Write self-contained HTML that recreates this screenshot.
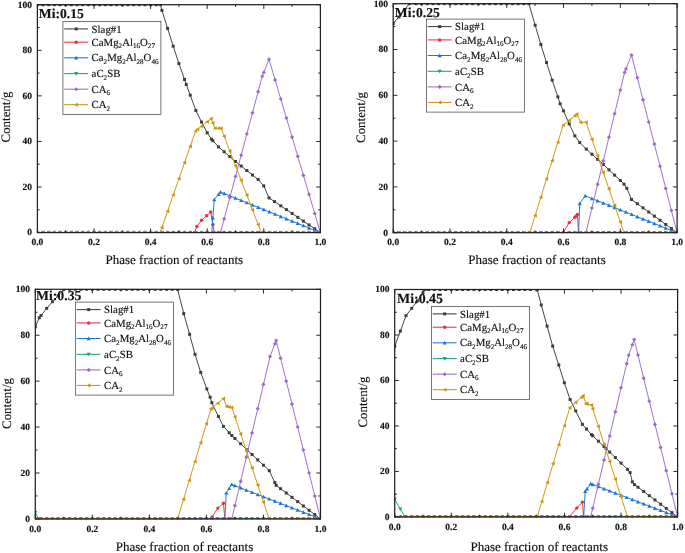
<!DOCTYPE html>
<html><head><meta charset="utf-8"><title>Phase fraction charts</title>
<style>
html,body{margin:0;padding:0;background:#fff;}
body{width:685px;height:553px;overflow:hidden;}
svg{display:block;filter:blur(0.4px);}
text{stroke:#111;stroke-width:0.15px;}
</style></head>
<body>
<svg width="685" height="553" viewBox="0 0 685 553" text-rendering="geometricPrecision">
<rect width="685" height="553" fill="#fff"/>
<clipPath id="c1"><rect x="37.10" y="4.30" width="283.60" height="228.70"/></clipPath>
<g clip-path="url(#c1)">
<path d="M37.40 4.70 L43.06 4.70 L48.72 4.70 L54.38 4.70 L60.04 4.70 L65.70 4.70 L71.36 4.70 L77.02 4.70 L82.68 4.70 L88.34 4.70 L94.00 4.70 L99.66 4.70 L105.32 4.70 L110.98 4.70 L116.64 4.70 L122.30 4.70 L127.96 4.70 L133.62 4.70 L139.28 4.70 L144.94 4.70 L150.60 4.70 L156.26 4.70 L160.50 4.70 L161.92 10.40 L167.58 28.40 L173.24 46.18 L178.90 63.50 L184.56 79.45 L186.26 84.47 L190.22 95.18 L195.88 110.45 L201.54 122.07 L207.20 132.78 L211.44 139.16 L212.86 140.71 L218.52 146.91 L224.18 151.77 L229.84 156.63 L235.50 161.50 L241.16 166.00 L246.82 170.50 L252.48 175.00 L258.14 179.50 L263.80 185.88 L269.04 197.96 L274.55 201.61 L280.78 205.81 L286.44 209.64 L292.10 213.47 L297.76 217.29 L303.42 221.12 L309.08 224.95 L314.74 228.77 L320.40 232.60" fill="none" stroke="#3c3c3c" stroke-width="0.95" stroke-linejoin="round"/>
<rect x="35.91" y="3.21" width="2.97" height="2.97" fill="#3c3c3c"/><rect x="41.58" y="3.21" width="2.97" height="2.97" fill="#3c3c3c"/><rect x="47.23" y="3.21" width="2.97" height="2.97" fill="#3c3c3c"/><rect x="52.89" y="3.21" width="2.97" height="2.97" fill="#3c3c3c"/><rect x="58.55" y="3.21" width="2.97" height="2.97" fill="#3c3c3c"/><rect x="64.22" y="3.21" width="2.97" height="2.97" fill="#3c3c3c"/><rect x="69.88" y="3.21" width="2.97" height="2.97" fill="#3c3c3c"/><rect x="75.54" y="3.21" width="2.97" height="2.97" fill="#3c3c3c"/><rect x="81.20" y="3.21" width="2.97" height="2.97" fill="#3c3c3c"/><rect x="86.86" y="3.21" width="2.97" height="2.97" fill="#3c3c3c"/><rect x="92.52" y="3.21" width="2.97" height="2.97" fill="#3c3c3c"/><rect x="98.17" y="3.21" width="2.97" height="2.97" fill="#3c3c3c"/><rect x="103.83" y="3.21" width="2.97" height="2.97" fill="#3c3c3c"/><rect x="109.49" y="3.21" width="2.97" height="2.97" fill="#3c3c3c"/><rect x="115.16" y="3.21" width="2.97" height="2.97" fill="#3c3c3c"/><rect x="120.81" y="3.21" width="2.97" height="2.97" fill="#3c3c3c"/><rect x="126.48" y="3.21" width="2.97" height="2.97" fill="#3c3c3c"/><rect x="132.13" y="3.21" width="2.97" height="2.97" fill="#3c3c3c"/><rect x="137.79" y="3.21" width="2.97" height="2.97" fill="#3c3c3c"/><rect x="143.45" y="3.21" width="2.97" height="2.97" fill="#3c3c3c"/><rect x="149.11" y="3.21" width="2.97" height="2.97" fill="#3c3c3c"/><rect x="154.77" y="3.21" width="2.97" height="2.97" fill="#3c3c3c"/><rect x="159.02" y="3.21" width="2.97" height="2.97" fill="#3c3c3c"/><rect x="160.43" y="8.91" width="2.97" height="2.97" fill="#3c3c3c"/><rect x="166.09" y="26.92" width="2.97" height="2.97" fill="#3c3c3c"/><rect x="171.75" y="44.69" width="2.97" height="2.97" fill="#3c3c3c"/><rect x="177.41" y="62.01" width="2.97" height="2.97" fill="#3c3c3c"/><rect x="183.07" y="77.97" width="2.97" height="2.97" fill="#3c3c3c"/><rect x="184.77" y="82.98" width="2.97" height="2.97" fill="#3c3c3c"/><rect x="188.74" y="93.69" width="2.97" height="2.97" fill="#3c3c3c"/><rect x="194.40" y="108.96" width="2.97" height="2.97" fill="#3c3c3c"/><rect x="200.05" y="120.58" width="2.97" height="2.97" fill="#3c3c3c"/><rect x="205.71" y="131.29" width="2.97" height="2.97" fill="#3c3c3c"/><rect x="209.96" y="137.68" width="2.97" height="2.97" fill="#3c3c3c"/><rect x="211.38" y="139.23" width="2.97" height="2.97" fill="#3c3c3c"/><rect x="217.03" y="145.42" width="2.97" height="2.97" fill="#3c3c3c"/><rect x="222.69" y="150.29" width="2.97" height="2.97" fill="#3c3c3c"/><rect x="228.36" y="155.15" width="2.97" height="2.97" fill="#3c3c3c"/><rect x="234.01" y="160.01" width="2.97" height="2.97" fill="#3c3c3c"/><rect x="239.67" y="164.51" width="2.97" height="2.97" fill="#3c3c3c"/><rect x="245.33" y="169.01" width="2.97" height="2.97" fill="#3c3c3c"/><rect x="251.00" y="173.51" width="2.97" height="2.97" fill="#3c3c3c"/><rect x="256.65" y="178.01" width="2.97" height="2.97" fill="#3c3c3c"/><rect x="262.31" y="184.40" width="2.97" height="2.97" fill="#3c3c3c"/><rect x="267.55" y="196.47" width="2.97" height="2.97" fill="#3c3c3c"/><rect x="273.07" y="200.12" width="2.97" height="2.97" fill="#3c3c3c"/><rect x="279.29" y="204.33" width="2.97" height="2.97" fill="#3c3c3c"/><rect x="284.95" y="208.16" width="2.97" height="2.97" fill="#3c3c3c"/><rect x="290.62" y="211.98" width="2.97" height="2.97" fill="#3c3c3c"/><rect x="296.27" y="215.81" width="2.97" height="2.97" fill="#3c3c3c"/><rect x="301.93" y="219.64" width="2.97" height="2.97" fill="#3c3c3c"/><rect x="307.59" y="223.46" width="2.97" height="2.97" fill="#3c3c3c"/><rect x="313.25" y="227.29" width="2.97" height="2.97" fill="#3c3c3c"/><rect x="318.91" y="231.11" width="2.97" height="2.97" fill="#3c3c3c"/>
<path d="M37.40 232.60 L43.06 232.60 L48.72 232.60 L54.38 232.60 L60.04 232.60 L65.70 232.60 L71.36 232.60 L77.02 232.60 L82.68 232.60 L88.34 232.60 L94.00 232.60 L99.66 232.60 L105.32 232.60 L110.98 232.60 L116.64 232.60 L122.30 232.60 L127.96 232.60 L133.62 232.60 L139.28 232.60 L144.94 232.60 L150.60 232.60 L156.26 232.60 L161.92 232.60 L167.58 232.60 L173.24 232.60 L178.90 232.60 L184.56 232.60 L190.22 232.60 L194.47 232.60 L196.90 226.45 L201.54 220.29 L206.63 215.74 L210.71 212.09 L212.86 224.46 L214.28 232.60 L218.52 232.60 L224.18 232.60 L229.84 232.60 L235.50 232.60 L241.16 232.60 L246.82 232.60 L252.48 232.60 L258.14 232.60 L263.80 232.60 L269.46 232.60 L275.12 232.60 L280.78 232.60 L286.44 232.60 L292.10 232.60 L297.76 232.60 L303.42 232.60 L309.08 232.60 L314.74 232.60 L320.40 232.60" fill="none" stroke="#e6323c" stroke-width="0.95" stroke-linejoin="round"/>
<circle cx="37.40" cy="232.60" r="1.73" fill="#e6323c"/><circle cx="43.06" cy="232.60" r="1.73" fill="#e6323c"/><circle cx="48.72" cy="232.60" r="1.73" fill="#e6323c"/><circle cx="54.38" cy="232.60" r="1.73" fill="#e6323c"/><circle cx="60.04" cy="232.60" r="1.73" fill="#e6323c"/><circle cx="65.70" cy="232.60" r="1.73" fill="#e6323c"/><circle cx="71.36" cy="232.60" r="1.73" fill="#e6323c"/><circle cx="77.02" cy="232.60" r="1.73" fill="#e6323c"/><circle cx="82.68" cy="232.60" r="1.73" fill="#e6323c"/><circle cx="88.34" cy="232.60" r="1.73" fill="#e6323c"/><circle cx="94.00" cy="232.60" r="1.73" fill="#e6323c"/><circle cx="99.66" cy="232.60" r="1.73" fill="#e6323c"/><circle cx="105.32" cy="232.60" r="1.73" fill="#e6323c"/><circle cx="110.98" cy="232.60" r="1.73" fill="#e6323c"/><circle cx="116.64" cy="232.60" r="1.73" fill="#e6323c"/><circle cx="122.30" cy="232.60" r="1.73" fill="#e6323c"/><circle cx="127.96" cy="232.60" r="1.73" fill="#e6323c"/><circle cx="133.62" cy="232.60" r="1.73" fill="#e6323c"/><circle cx="139.28" cy="232.60" r="1.73" fill="#e6323c"/><circle cx="144.94" cy="232.60" r="1.73" fill="#e6323c"/><circle cx="150.60" cy="232.60" r="1.73" fill="#e6323c"/><circle cx="156.26" cy="232.60" r="1.73" fill="#e6323c"/><circle cx="161.92" cy="232.60" r="1.73" fill="#e6323c"/><circle cx="167.58" cy="232.60" r="1.73" fill="#e6323c"/><circle cx="173.24" cy="232.60" r="1.73" fill="#e6323c"/><circle cx="178.90" cy="232.60" r="1.73" fill="#e6323c"/><circle cx="184.56" cy="232.60" r="1.73" fill="#e6323c"/><circle cx="190.22" cy="232.60" r="1.73" fill="#e6323c"/><circle cx="194.47" cy="232.60" r="1.73" fill="#e6323c"/><circle cx="196.90" cy="226.45" r="1.73" fill="#e6323c"/><circle cx="201.54" cy="220.29" r="1.73" fill="#e6323c"/><circle cx="206.63" cy="215.74" r="1.73" fill="#e6323c"/><circle cx="210.71" cy="212.09" r="1.73" fill="#e6323c"/><circle cx="212.86" cy="224.46" r="1.73" fill="#e6323c"/><circle cx="214.28" cy="232.60" r="1.73" fill="#e6323c"/><circle cx="218.52" cy="232.60" r="1.73" fill="#e6323c"/><circle cx="224.18" cy="232.60" r="1.73" fill="#e6323c"/><circle cx="229.84" cy="232.60" r="1.73" fill="#e6323c"/><circle cx="235.50" cy="232.60" r="1.73" fill="#e6323c"/><circle cx="241.16" cy="232.60" r="1.73" fill="#e6323c"/><circle cx="246.82" cy="232.60" r="1.73" fill="#e6323c"/><circle cx="252.48" cy="232.60" r="1.73" fill="#e6323c"/><circle cx="258.14" cy="232.60" r="1.73" fill="#e6323c"/><circle cx="263.80" cy="232.60" r="1.73" fill="#e6323c"/><circle cx="269.46" cy="232.60" r="1.73" fill="#e6323c"/><circle cx="275.12" cy="232.60" r="1.73" fill="#e6323c"/><circle cx="280.78" cy="232.60" r="1.73" fill="#e6323c"/><circle cx="286.44" cy="232.60" r="1.73" fill="#e6323c"/><circle cx="292.10" cy="232.60" r="1.73" fill="#e6323c"/><circle cx="297.76" cy="232.60" r="1.73" fill="#e6323c"/><circle cx="303.42" cy="232.60" r="1.73" fill="#e6323c"/><circle cx="309.08" cy="232.60" r="1.73" fill="#e6323c"/><circle cx="314.74" cy="232.60" r="1.73" fill="#e6323c"/><circle cx="320.40" cy="232.60" r="1.73" fill="#e6323c"/>
<path d="M37.40 232.60 L43.06 232.60 L48.72 232.60 L54.38 232.60 L60.04 232.60 L65.70 232.60 L71.36 232.60 L77.02 232.60 L82.68 232.60 L88.34 232.60 L94.00 232.60 L99.66 232.60 L105.32 232.60 L110.98 232.60 L116.64 232.60 L122.30 232.60 L127.96 232.60 L133.62 232.60 L139.28 232.60 L144.94 232.60 L150.60 232.60 L156.26 232.60 L161.92 232.60 L167.58 232.60 L173.24 232.60 L178.90 232.60 L184.56 232.60 L190.22 232.60 L195.88 232.60 L201.54 232.60 L207.20 232.60 L211.73 232.60 L212.86 217.91 L214.28 199.55 L218.52 194.43 L220.50 192.03 L224.18 193.53 L229.84 195.83 L235.50 198.12 L241.16 200.42 L246.82 202.72 L252.48 205.02 L258.14 207.32 L263.80 209.62 L269.46 211.91 L275.12 214.21 L280.78 216.51 L286.44 218.81 L292.10 221.11 L297.76 223.41 L303.42 225.70 L309.08 228.00 L314.74 230.30 L320.40 232.60" fill="none" stroke="#1f74d2" stroke-width="0.95" stroke-linejoin="round"/>
<path d="M37.40 230.54L39.46 234.25L35.34 234.25Z" fill="#1f74d2"/><path d="M43.06 230.54L45.12 234.25L41.00 234.25Z" fill="#1f74d2"/><path d="M48.72 230.54L50.78 234.25L46.66 234.25Z" fill="#1f74d2"/><path d="M54.38 230.54L56.44 234.25L52.32 234.25Z" fill="#1f74d2"/><path d="M60.04 230.54L62.10 234.25L57.98 234.25Z" fill="#1f74d2"/><path d="M65.70 230.54L67.76 234.25L63.64 234.25Z" fill="#1f74d2"/><path d="M71.36 230.54L73.42 234.25L69.30 234.25Z" fill="#1f74d2"/><path d="M77.02 230.54L79.08 234.25L74.96 234.25Z" fill="#1f74d2"/><path d="M82.68 230.54L84.74 234.25L80.62 234.25Z" fill="#1f74d2"/><path d="M88.34 230.54L90.40 234.25L86.28 234.25Z" fill="#1f74d2"/><path d="M94.00 230.54L96.06 234.25L91.94 234.25Z" fill="#1f74d2"/><path d="M99.66 230.54L101.72 234.25L97.60 234.25Z" fill="#1f74d2"/><path d="M105.32 230.54L107.38 234.25L103.26 234.25Z" fill="#1f74d2"/><path d="M110.98 230.54L113.04 234.25L108.92 234.25Z" fill="#1f74d2"/><path d="M116.64 230.54L118.70 234.25L114.58 234.25Z" fill="#1f74d2"/><path d="M122.30 230.54L124.36 234.25L120.24 234.25Z" fill="#1f74d2"/><path d="M127.96 230.54L130.02 234.25L125.90 234.25Z" fill="#1f74d2"/><path d="M133.62 230.54L135.68 234.25L131.56 234.25Z" fill="#1f74d2"/><path d="M139.28 230.54L141.34 234.25L137.22 234.25Z" fill="#1f74d2"/><path d="M144.94 230.54L147.00 234.25L142.88 234.25Z" fill="#1f74d2"/><path d="M150.60 230.54L152.66 234.25L148.54 234.25Z" fill="#1f74d2"/><path d="M156.26 230.54L158.32 234.25L154.20 234.25Z" fill="#1f74d2"/><path d="M161.92 230.54L163.98 234.25L159.86 234.25Z" fill="#1f74d2"/><path d="M167.58 230.54L169.64 234.25L165.52 234.25Z" fill="#1f74d2"/><path d="M173.24 230.54L175.30 234.25L171.18 234.25Z" fill="#1f74d2"/><path d="M178.90 230.54L180.96 234.25L176.84 234.25Z" fill="#1f74d2"/><path d="M184.56 230.54L186.62 234.25L182.50 234.25Z" fill="#1f74d2"/><path d="M190.22 230.54L192.28 234.25L188.16 234.25Z" fill="#1f74d2"/><path d="M195.88 230.54L197.94 234.25L193.82 234.25Z" fill="#1f74d2"/><path d="M201.54 230.54L203.60 234.25L199.48 234.25Z" fill="#1f74d2"/><path d="M207.20 230.54L209.26 234.25L205.14 234.25Z" fill="#1f74d2"/><path d="M211.73 230.54L213.79 234.25L209.67 234.25Z" fill="#1f74d2"/><path d="M212.86 215.85L214.92 219.56L210.80 219.56Z" fill="#1f74d2"/><path d="M214.28 197.49L216.34 201.20L212.21 201.20Z" fill="#1f74d2"/><path d="M218.52 192.36L220.58 196.08L216.46 196.08Z" fill="#1f74d2"/><path d="M220.50 189.97L222.56 193.68L218.44 193.68Z" fill="#1f74d2"/><path d="M224.18 191.47L226.24 195.18L222.12 195.18Z" fill="#1f74d2"/><path d="M229.84 193.76L231.90 197.48L227.78 197.48Z" fill="#1f74d2"/><path d="M235.50 196.06L237.56 199.77L233.44 199.77Z" fill="#1f74d2"/><path d="M241.16 198.36L243.22 202.07L239.10 202.07Z" fill="#1f74d2"/><path d="M246.82 200.66L248.88 204.37L244.76 204.37Z" fill="#1f74d2"/><path d="M252.48 202.96L254.54 206.67L250.42 206.67Z" fill="#1f74d2"/><path d="M258.14 205.26L260.20 208.97L256.08 208.97Z" fill="#1f74d2"/><path d="M263.80 207.55L265.86 211.27L261.74 211.27Z" fill="#1f74d2"/><path d="M269.46 209.85L271.52 213.56L267.40 213.56Z" fill="#1f74d2"/><path d="M275.12 212.15L277.18 215.86L273.06 215.86Z" fill="#1f74d2"/><path d="M280.78 214.45L282.84 218.16L278.72 218.16Z" fill="#1f74d2"/><path d="M286.44 216.75L288.50 220.46L284.38 220.46Z" fill="#1f74d2"/><path d="M292.10 219.05L294.16 222.76L290.04 222.76Z" fill="#1f74d2"/><path d="M297.76 221.34L299.82 225.06L295.70 225.06Z" fill="#1f74d2"/><path d="M303.42 223.64L305.48 227.35L301.36 227.35Z" fill="#1f74d2"/><path d="M309.08 225.94L311.14 229.65L307.02 229.65Z" fill="#1f74d2"/><path d="M314.74 228.24L316.80 231.95L312.68 231.95Z" fill="#1f74d2"/><path d="M320.40 230.54L322.46 234.25L318.34 234.25Z" fill="#1f74d2"/>
<path d="M37.40 232.60 L43.06 232.60 L48.72 232.60 L54.38 232.60 L60.04 232.60 L65.70 232.60 L71.36 232.60 L77.02 232.60 L82.68 232.60 L88.34 232.60 L94.00 232.60 L99.66 232.60 L105.32 232.60 L110.98 232.60 L116.64 232.60 L122.30 232.60 L127.96 232.60 L133.62 232.60 L139.28 232.60 L144.94 232.60 L150.60 232.60 L156.26 232.60 L161.92 232.60 L167.58 232.60 L173.24 232.60 L178.90 232.60 L184.56 232.60 L190.22 232.60 L195.88 232.60 L201.54 232.60 L207.20 232.60 L212.86 232.60 L218.52 232.60 L224.18 232.60 L229.84 232.60 L235.50 232.60 L241.16 232.60 L246.82 232.60 L252.48 232.60 L258.14 232.60 L263.80 232.60 L269.46 232.60 L275.12 232.60 L280.78 232.60 L286.44 232.60 L292.10 232.60 L297.76 232.60 L303.42 232.60 L309.08 232.60 L314.74 232.60 L320.40 232.60" fill="none" stroke="#1fa373" stroke-width="0.95" stroke-linejoin="round"/>
<path d="M37.40 234.66L39.46 230.95L35.34 230.95Z" fill="#1fa373"/><path d="M43.06 234.66L45.12 230.95L41.00 230.95Z" fill="#1fa373"/><path d="M48.72 234.66L50.78 230.95L46.66 230.95Z" fill="#1fa373"/><path d="M54.38 234.66L56.44 230.95L52.32 230.95Z" fill="#1fa373"/><path d="M60.04 234.66L62.10 230.95L57.98 230.95Z" fill="#1fa373"/><path d="M65.70 234.66L67.76 230.95L63.64 230.95Z" fill="#1fa373"/><path d="M71.36 234.66L73.42 230.95L69.30 230.95Z" fill="#1fa373"/><path d="M77.02 234.66L79.08 230.95L74.96 230.95Z" fill="#1fa373"/><path d="M82.68 234.66L84.74 230.95L80.62 230.95Z" fill="#1fa373"/><path d="M88.34 234.66L90.40 230.95L86.28 230.95Z" fill="#1fa373"/><path d="M94.00 234.66L96.06 230.95L91.94 230.95Z" fill="#1fa373"/><path d="M99.66 234.66L101.72 230.95L97.60 230.95Z" fill="#1fa373"/><path d="M105.32 234.66L107.38 230.95L103.26 230.95Z" fill="#1fa373"/><path d="M110.98 234.66L113.04 230.95L108.92 230.95Z" fill="#1fa373"/><path d="M116.64 234.66L118.70 230.95L114.58 230.95Z" fill="#1fa373"/><path d="M122.30 234.66L124.36 230.95L120.24 230.95Z" fill="#1fa373"/><path d="M127.96 234.66L130.02 230.95L125.90 230.95Z" fill="#1fa373"/><path d="M133.62 234.66L135.68 230.95L131.56 230.95Z" fill="#1fa373"/><path d="M139.28 234.66L141.34 230.95L137.22 230.95Z" fill="#1fa373"/><path d="M144.94 234.66L147.00 230.95L142.88 230.95Z" fill="#1fa373"/><path d="M150.60 234.66L152.66 230.95L148.54 230.95Z" fill="#1fa373"/><path d="M156.26 234.66L158.32 230.95L154.20 230.95Z" fill="#1fa373"/><path d="M161.92 234.66L163.98 230.95L159.86 230.95Z" fill="#1fa373"/><path d="M167.58 234.66L169.64 230.95L165.52 230.95Z" fill="#1fa373"/><path d="M173.24 234.66L175.30 230.95L171.18 230.95Z" fill="#1fa373"/><path d="M178.90 234.66L180.96 230.95L176.84 230.95Z" fill="#1fa373"/><path d="M184.56 234.66L186.62 230.95L182.50 230.95Z" fill="#1fa373"/><path d="M190.22 234.66L192.28 230.95L188.16 230.95Z" fill="#1fa373"/><path d="M195.88 234.66L197.94 230.95L193.82 230.95Z" fill="#1fa373"/><path d="M201.54 234.66L203.60 230.95L199.48 230.95Z" fill="#1fa373"/><path d="M207.20 234.66L209.26 230.95L205.14 230.95Z" fill="#1fa373"/><path d="M212.86 234.66L214.92 230.95L210.80 230.95Z" fill="#1fa373"/><path d="M218.52 234.66L220.58 230.95L216.46 230.95Z" fill="#1fa373"/><path d="M224.18 234.66L226.24 230.95L222.12 230.95Z" fill="#1fa373"/><path d="M229.84 234.66L231.90 230.95L227.78 230.95Z" fill="#1fa373"/><path d="M235.50 234.66L237.56 230.95L233.44 230.95Z" fill="#1fa373"/><path d="M241.16 234.66L243.22 230.95L239.10 230.95Z" fill="#1fa373"/><path d="M246.82 234.66L248.88 230.95L244.76 230.95Z" fill="#1fa373"/><path d="M252.48 234.66L254.54 230.95L250.42 230.95Z" fill="#1fa373"/><path d="M258.14 234.66L260.20 230.95L256.08 230.95Z" fill="#1fa373"/><path d="M263.80 234.66L265.86 230.95L261.74 230.95Z" fill="#1fa373"/><path d="M269.46 234.66L271.52 230.95L267.40 230.95Z" fill="#1fa373"/><path d="M275.12 234.66L277.18 230.95L273.06 230.95Z" fill="#1fa373"/><path d="M280.78 234.66L282.84 230.95L278.72 230.95Z" fill="#1fa373"/><path d="M286.44 234.66L288.50 230.95L284.38 230.95Z" fill="#1fa373"/><path d="M292.10 234.66L294.16 230.95L290.04 230.95Z" fill="#1fa373"/><path d="M297.76 234.66L299.82 230.95L295.70 230.95Z" fill="#1fa373"/><path d="M303.42 234.66L305.48 230.95L301.36 230.95Z" fill="#1fa373"/><path d="M309.08 234.66L311.14 230.95L307.02 230.95Z" fill="#1fa373"/><path d="M314.74 234.66L316.80 230.95L312.68 230.95Z" fill="#1fa373"/><path d="M320.40 234.66L322.46 230.95L318.34 230.95Z" fill="#1fa373"/>
<path d="M37.40 232.60 L43.06 232.60 L48.72 232.60 L54.38 232.60 L60.04 232.60 L65.70 232.60 L71.36 232.60 L77.02 232.60 L82.68 232.60 L88.34 232.60 L94.00 232.60 L99.66 232.60 L105.32 232.60 L110.98 232.60 L116.64 232.60 L122.30 232.60 L127.96 232.60 L133.62 232.60 L139.28 232.60 L144.94 232.60 L150.60 232.60 L156.26 232.60 L161.92 232.60 L167.58 232.60 L173.24 232.60 L178.90 232.60 L184.56 232.60 L190.22 232.60 L195.88 232.60 L201.54 232.60 L207.20 232.60 L212.86 232.60 L218.52 232.60 L220.50 232.60 L224.18 218.82 L229.84 197.62 L235.50 176.42 L241.16 155.23 L246.82 134.03 L252.48 112.83 L258.14 91.63 L262.24 76.26 L263.80 72.40 L269.04 59.40 L275.12 79.91 L280.78 99.00 L286.44 118.08 L292.10 137.17 L297.76 156.26 L303.42 175.34 L309.08 194.43 L314.74 213.51 L320.40 232.60" fill="none" stroke="#9a6bc9" stroke-width="0.95" stroke-linejoin="round"/>
<path d="M37.40 230.54L39.46 232.60L37.40 234.66L35.34 232.60Z" fill="#9a6bc9"/><path d="M43.06 230.54L45.12 232.60L43.06 234.66L41.00 232.60Z" fill="#9a6bc9"/><path d="M48.72 230.54L50.78 232.60L48.72 234.66L46.66 232.60Z" fill="#9a6bc9"/><path d="M54.38 230.54L56.44 232.60L54.38 234.66L52.32 232.60Z" fill="#9a6bc9"/><path d="M60.04 230.54L62.10 232.60L60.04 234.66L57.98 232.60Z" fill="#9a6bc9"/><path d="M65.70 230.54L67.76 232.60L65.70 234.66L63.64 232.60Z" fill="#9a6bc9"/><path d="M71.36 230.54L73.42 232.60L71.36 234.66L69.30 232.60Z" fill="#9a6bc9"/><path d="M77.02 230.54L79.08 232.60L77.02 234.66L74.96 232.60Z" fill="#9a6bc9"/><path d="M82.68 230.54L84.74 232.60L82.68 234.66L80.62 232.60Z" fill="#9a6bc9"/><path d="M88.34 230.54L90.40 232.60L88.34 234.66L86.28 232.60Z" fill="#9a6bc9"/><path d="M94.00 230.54L96.06 232.60L94.00 234.66L91.94 232.60Z" fill="#9a6bc9"/><path d="M99.66 230.54L101.72 232.60L99.66 234.66L97.60 232.60Z" fill="#9a6bc9"/><path d="M105.32 230.54L107.38 232.60L105.32 234.66L103.26 232.60Z" fill="#9a6bc9"/><path d="M110.98 230.54L113.04 232.60L110.98 234.66L108.92 232.60Z" fill="#9a6bc9"/><path d="M116.64 230.54L118.70 232.60L116.64 234.66L114.58 232.60Z" fill="#9a6bc9"/><path d="M122.30 230.54L124.36 232.60L122.30 234.66L120.24 232.60Z" fill="#9a6bc9"/><path d="M127.96 230.54L130.02 232.60L127.96 234.66L125.90 232.60Z" fill="#9a6bc9"/><path d="M133.62 230.54L135.68 232.60L133.62 234.66L131.56 232.60Z" fill="#9a6bc9"/><path d="M139.28 230.54L141.34 232.60L139.28 234.66L137.22 232.60Z" fill="#9a6bc9"/><path d="M144.94 230.54L147.00 232.60L144.94 234.66L142.88 232.60Z" fill="#9a6bc9"/><path d="M150.60 230.54L152.66 232.60L150.60 234.66L148.54 232.60Z" fill="#9a6bc9"/><path d="M156.26 230.54L158.32 232.60L156.26 234.66L154.20 232.60Z" fill="#9a6bc9"/><path d="M161.92 230.54L163.98 232.60L161.92 234.66L159.86 232.60Z" fill="#9a6bc9"/><path d="M167.58 230.54L169.64 232.60L167.58 234.66L165.52 232.60Z" fill="#9a6bc9"/><path d="M173.24 230.54L175.30 232.60L173.24 234.66L171.18 232.60Z" fill="#9a6bc9"/><path d="M178.90 230.54L180.96 232.60L178.90 234.66L176.84 232.60Z" fill="#9a6bc9"/><path d="M184.56 230.54L186.62 232.60L184.56 234.66L182.50 232.60Z" fill="#9a6bc9"/><path d="M190.22 230.54L192.28 232.60L190.22 234.66L188.16 232.60Z" fill="#9a6bc9"/><path d="M195.88 230.54L197.94 232.60L195.88 234.66L193.82 232.60Z" fill="#9a6bc9"/><path d="M201.54 230.54L203.60 232.60L201.54 234.66L199.48 232.60Z" fill="#9a6bc9"/><path d="M207.20 230.54L209.26 232.60L207.20 234.66L205.14 232.60Z" fill="#9a6bc9"/><path d="M212.86 230.54L214.92 232.60L212.86 234.66L210.80 232.60Z" fill="#9a6bc9"/><path d="M218.52 230.54L220.58 232.60L218.52 234.66L216.46 232.60Z" fill="#9a6bc9"/><path d="M220.50 230.54L222.56 232.60L220.50 234.66L218.44 232.60Z" fill="#9a6bc9"/><path d="M224.18 216.76L226.24 218.82L224.18 220.88L222.12 218.82Z" fill="#9a6bc9"/><path d="M229.84 195.56L231.90 197.62L229.84 199.68L227.78 197.62Z" fill="#9a6bc9"/><path d="M235.50 174.36L237.56 176.42L235.50 178.49L233.44 176.42Z" fill="#9a6bc9"/><path d="M241.16 153.16L243.22 155.23L241.16 157.29L239.10 155.23Z" fill="#9a6bc9"/><path d="M246.82 131.96L248.88 134.03L246.82 136.09L244.76 134.03Z" fill="#9a6bc9"/><path d="M252.48 110.77L254.54 112.83L252.48 114.89L250.42 112.83Z" fill="#9a6bc9"/><path d="M258.14 89.57L260.20 91.63L258.14 93.69L256.08 91.63Z" fill="#9a6bc9"/><path d="M262.24 74.20L264.31 76.26L262.24 78.32L260.18 76.26Z" fill="#9a6bc9"/><path d="M263.80 70.33L265.86 72.40L263.80 74.46L261.74 72.40Z" fill="#9a6bc9"/><path d="M269.04 57.33L271.10 59.40L269.04 61.46L266.97 59.40Z" fill="#9a6bc9"/><path d="M275.12 77.85L277.18 79.91L275.12 81.98L273.06 79.91Z" fill="#9a6bc9"/><path d="M280.78 96.94L282.84 99.00L280.78 101.06L278.72 99.00Z" fill="#9a6bc9"/><path d="M286.44 116.02L288.50 118.08L286.44 120.15L284.38 118.08Z" fill="#9a6bc9"/><path d="M292.10 135.11L294.16 137.17L292.10 139.23L290.04 137.17Z" fill="#9a6bc9"/><path d="M297.76 154.19L299.82 156.26L297.76 158.32L295.70 156.26Z" fill="#9a6bc9"/><path d="M303.42 173.28L305.48 175.34L303.42 177.40L301.36 175.34Z" fill="#9a6bc9"/><path d="M309.08 192.37L311.14 194.43L309.08 196.49L307.02 194.43Z" fill="#9a6bc9"/><path d="M314.74 211.45L316.80 213.51L314.74 215.58L312.68 213.51Z" fill="#9a6bc9"/><path d="M320.40 230.54L322.46 232.60L320.40 234.66L318.34 232.60Z" fill="#9a6bc9"/>
<path d="M37.40 232.60 L43.06 232.60 L48.72 232.60 L54.38 232.60 L60.04 232.60 L65.70 232.60 L71.36 232.60 L77.02 232.60 L82.68 232.60 L88.34 232.60 L94.00 232.60 L99.66 232.60 L105.32 232.60 L110.98 232.60 L116.64 232.60 L122.30 232.60 L127.96 232.60 L133.62 232.60 L139.28 232.60 L144.94 232.60 L150.60 232.60 L156.26 232.60 L160.11 232.60 L161.92 227.41 L167.58 211.20 L173.24 194.99 L178.90 178.78 L184.56 162.57 L190.22 146.36 L195.60 130.96 L197.58 129.36 L201.54 126.22 L207.20 121.73 L211.08 118.65 L212.86 123.02 L214.98 128.22 L218.52 128.22 L221.07 128.22 L224.18 136.31 L229.84 151.01 L235.50 165.71 L241.16 180.41 L246.82 195.11 L252.48 209.81 L258.14 224.51 L261.25 232.60 L263.80 232.60 L269.46 232.60 L275.12 232.60 L280.78 232.60 L286.44 232.60 L292.10 232.60 L297.76 232.60 L303.42 232.60 L309.08 232.60 L314.74 232.60 L320.40 232.60" fill="none" stroke="#c9960c" stroke-width="0.95" stroke-linejoin="round"/>
<path d="M35.34 232.60L39.05 230.54L39.05 234.66Z" fill="#c9960c"/><path d="M41.00 232.60L44.71 230.54L44.71 234.66Z" fill="#c9960c"/><path d="M46.66 232.60L50.37 230.54L50.37 234.66Z" fill="#c9960c"/><path d="M52.32 232.60L56.03 230.54L56.03 234.66Z" fill="#c9960c"/><path d="M57.98 232.60L61.69 230.54L61.69 234.66Z" fill="#c9960c"/><path d="M63.64 232.60L67.35 230.54L67.35 234.66Z" fill="#c9960c"/><path d="M69.30 232.60L73.01 230.54L73.01 234.66Z" fill="#c9960c"/><path d="M74.96 232.60L78.67 230.54L78.67 234.66Z" fill="#c9960c"/><path d="M80.62 232.60L84.33 230.54L84.33 234.66Z" fill="#c9960c"/><path d="M86.28 232.60L89.99 230.54L89.99 234.66Z" fill="#c9960c"/><path d="M91.94 232.60L95.65 230.54L95.65 234.66Z" fill="#c9960c"/><path d="M97.60 232.60L101.31 230.54L101.31 234.66Z" fill="#c9960c"/><path d="M103.26 232.60L106.97 230.54L106.97 234.66Z" fill="#c9960c"/><path d="M108.92 232.60L112.63 230.54L112.63 234.66Z" fill="#c9960c"/><path d="M114.58 232.60L118.29 230.54L118.29 234.66Z" fill="#c9960c"/><path d="M120.24 232.60L123.95 230.54L123.95 234.66Z" fill="#c9960c"/><path d="M125.90 232.60L129.61 230.54L129.61 234.66Z" fill="#c9960c"/><path d="M131.56 232.60L135.27 230.54L135.27 234.66Z" fill="#c9960c"/><path d="M137.22 232.60L140.93 230.54L140.93 234.66Z" fill="#c9960c"/><path d="M142.88 232.60L146.59 230.54L146.59 234.66Z" fill="#c9960c"/><path d="M148.54 232.60L152.25 230.54L152.25 234.66Z" fill="#c9960c"/><path d="M154.20 232.60L157.91 230.54L157.91 234.66Z" fill="#c9960c"/><path d="M158.05 232.60L161.76 230.54L161.76 234.66Z" fill="#c9960c"/><path d="M159.86 227.41L163.57 225.35L163.57 229.47Z" fill="#c9960c"/><path d="M165.52 211.20L169.23 209.14L169.23 213.26Z" fill="#c9960c"/><path d="M171.18 194.99L174.89 192.93L174.89 197.05Z" fill="#c9960c"/><path d="M176.84 178.78L180.55 176.72L180.55 180.84Z" fill="#c9960c"/><path d="M182.50 162.57L186.21 160.51L186.21 164.63Z" fill="#c9960c"/><path d="M188.16 146.36L191.87 144.29L191.87 148.42Z" fill="#c9960c"/><path d="M193.53 130.96L197.25 128.89L197.25 133.02Z" fill="#c9960c"/><path d="M195.52 129.36L199.23 127.30L199.23 131.42Z" fill="#c9960c"/><path d="M199.48 126.22L203.19 124.16L203.19 128.28Z" fill="#c9960c"/><path d="M205.14 121.73L208.85 119.66L208.85 123.79Z" fill="#c9960c"/><path d="M209.01 118.65L212.73 116.59L212.73 120.71Z" fill="#c9960c"/><path d="M210.80 123.02L214.51 120.96L214.51 125.08Z" fill="#c9960c"/><path d="M212.92 128.22L216.63 126.16L216.63 130.28Z" fill="#c9960c"/><path d="M216.46 128.22L220.17 126.16L220.17 130.28Z" fill="#c9960c"/><path d="M219.00 128.22L222.72 126.16L222.72 130.28Z" fill="#c9960c"/><path d="M222.12 136.31L225.83 134.24L225.83 138.37Z" fill="#c9960c"/><path d="M227.78 151.01L231.49 148.95L231.49 153.07Z" fill="#c9960c"/><path d="M233.44 165.71L237.15 163.65L237.15 167.77Z" fill="#c9960c"/><path d="M239.10 180.41L242.81 178.35L242.81 182.47Z" fill="#c9960c"/><path d="M244.76 195.11L248.47 193.05L248.47 197.17Z" fill="#c9960c"/><path d="M250.42 209.81L254.13 207.75L254.13 211.88Z" fill="#c9960c"/><path d="M256.08 224.51L259.79 222.45L259.79 226.58Z" fill="#c9960c"/><path d="M259.19 232.60L262.90 230.54L262.90 234.66Z" fill="#c9960c"/><path d="M261.74 232.60L265.45 230.54L265.45 234.66Z" fill="#c9960c"/><path d="M267.40 232.60L271.11 230.54L271.11 234.66Z" fill="#c9960c"/><path d="M273.06 232.60L276.77 230.54L276.77 234.66Z" fill="#c9960c"/><path d="M278.72 232.60L282.43 230.54L282.43 234.66Z" fill="#c9960c"/><path d="M284.38 232.60L288.09 230.54L288.09 234.66Z" fill="#c9960c"/><path d="M290.04 232.60L293.75 230.54L293.75 234.66Z" fill="#c9960c"/><path d="M295.70 232.60L299.41 230.54L299.41 234.66Z" fill="#c9960c"/><path d="M301.36 232.60L305.07 230.54L305.07 234.66Z" fill="#c9960c"/><path d="M307.02 232.60L310.73 230.54L310.73 234.66Z" fill="#c9960c"/><path d="M312.68 232.60L316.39 230.54L316.39 234.66Z" fill="#c9960c"/><path d="M318.34 232.60L322.05 230.54L322.05 234.66Z" fill="#c9960c"/>
</g>
<rect x="37.40" y="4.70" width="283.00" height="227.90" fill="none" stroke="#222" stroke-width="1.25"/>
<path d="M37.40 232.60v-4.2M37.40 4.70v4.2M37.40 232.60h4.2M320.40 232.60h-4.2M65.70 232.60v-2.2M65.70 4.70v2.2M37.40 209.81h2.2M320.40 209.81h-2.2M94.00 232.60v-4.2M94.00 4.70v4.2M37.40 187.02h4.2M320.40 187.02h-4.2M122.30 232.60v-2.2M122.30 4.70v2.2M37.40 164.23h2.2M320.40 164.23h-2.2M150.60 232.60v-4.2M150.60 4.70v4.2M37.40 141.44h4.2M320.40 141.44h-4.2M178.90 232.60v-2.2M178.90 4.70v2.2M37.40 118.65h2.2M320.40 118.65h-2.2M207.20 232.60v-4.2M207.20 4.70v4.2M37.40 95.86h4.2M320.40 95.86h-4.2M235.50 232.60v-2.2M235.50 4.70v2.2M37.40 73.07h2.2M320.40 73.07h-2.2M263.80 232.60v-4.2M263.80 4.70v4.2M37.40 50.28h4.2M320.40 50.28h-4.2M292.10 232.60v-2.2M292.10 4.70v2.2M37.40 27.49h2.2M320.40 27.49h-2.2M320.40 232.60v-4.2M320.40 4.70v4.2M37.40 4.70h4.2M320.40 4.70h-4.2" stroke="#262626" stroke-width="1" fill="none"/>
<g font-family="'Liberation Serif', serif" font-weight="bold" font-size="9.5" fill="#111" stroke="#111" stroke-width="0.18">
<text x="37.40" y="245.30" text-anchor="middle">0.0</text>
<text x="32.10" y="235.40" text-anchor="end">0</text>
<text x="94.00" y="245.30" text-anchor="middle">0.2</text>
<text x="32.10" y="189.82" text-anchor="end">20</text>
<text x="150.60" y="245.30" text-anchor="middle">0.4</text>
<text x="32.10" y="144.24" text-anchor="end">40</text>
<text x="207.20" y="245.30" text-anchor="middle">0.6</text>
<text x="32.10" y="98.66" text-anchor="end">60</text>
<text x="263.80" y="245.30" text-anchor="middle">0.8</text>
<text x="32.10" y="53.08" text-anchor="end">80</text>
<text x="320.40" y="245.30" text-anchor="middle">1.0</text>
<text x="32.10" y="7.50" text-anchor="end">100</text>
</g>
<text x="174.30" y="264.40" text-anchor="middle" font-family="'Liberation Serif', serif" font-size="13.0" fill="#111">Phase fraction of reactants</text>
<text transform="translate(10.40 117.00) rotate(-90)" text-anchor="middle" font-family="'Liberation Serif', serif" font-size="12.9" fill="#111">Content/g</text>
<text x="38.80" y="17.60" font-family="'Liberation Serif', serif" font-weight="bold" font-size="13.6" fill="#141414">Mi:0.15</text>
<rect x="62.90" y="21.40" width="98" height="93" fill="#fff" stroke="#555" stroke-width="0.8"/>
<path d="M64.20 28.90h23.9" stroke="#3c3c3c" stroke-width="1.05"/>
<rect x="74.72" y="27.41" width="2.97" height="2.97" fill="#3c3c3c"/>
<text x="91.60" y="32.50" font-family="'Liberation Serif', serif" font-size="10.8" fill="#111">Slag#1</text>
<path d="M64.20 42.20h23.9" stroke="#e6323c" stroke-width="1.05"/>
<circle cx="76.20" cy="42.20" r="1.73" fill="#e6323c"/>
<text x="91.60" y="45.80" font-family="'Liberation Serif', serif" font-size="10.8" fill="#111">CaMg<tspan dy="2.6" font-size="7.1">2</tspan><tspan dy="-2.6">Al</tspan><tspan dy="2.6" font-size="7.1">16</tspan><tspan dy="-2.6">O</tspan><tspan dy="2.6" font-size="7.1">27</tspan></text>
<path d="M64.20 57.80h23.9" stroke="#1f74d2" stroke-width="1.05"/>
<path d="M76.20 55.74L78.26 59.45L74.14 59.45Z" fill="#1f74d2"/>
<text x="91.60" y="61.40" font-family="'Liberation Serif', serif" font-size="10.8" fill="#111">Ca<tspan dy="2.6" font-size="7.1">2</tspan><tspan dy="-2.6">Mg</tspan><tspan dy="2.6" font-size="7.1">2</tspan><tspan dy="-2.6">Al</tspan><tspan dy="2.6" font-size="7.1">28</tspan><tspan dy="-2.6">O</tspan><tspan dy="2.6" font-size="7.1">46</tspan></text>
<path d="M64.20 73.60h23.9" stroke="#1fa373" stroke-width="1.05"/>
<path d="M76.20 75.66L78.26 71.95L74.14 71.95Z" fill="#1fa373"/>
<text x="91.60" y="77.20" font-family="'Liberation Serif', serif" font-size="10.8" fill="#111">aC<tspan dy="2.6" font-size="7.1">2</tspan><tspan dy="-2.6">SB</tspan></text>
<path d="M64.20 89.20h23.9" stroke="#9a6bc9" stroke-width="1.05"/>
<path d="M76.20 87.14L78.26 89.20L76.20 91.26L74.14 89.20Z" fill="#9a6bc9"/>
<text x="91.60" y="92.80" font-family="'Liberation Serif', serif" font-size="10.8" fill="#111">CA<tspan dy="2.6" font-size="7.1">6</tspan></text>
<path d="M64.20 104.70h23.9" stroke="#c9960c" stroke-width="1.05"/>
<path d="M74.14 104.70L77.85 102.64L77.85 106.76Z" fill="#c9960c"/>
<text x="91.60" y="108.30" font-family="'Liberation Serif', serif" font-size="10.8" fill="#111">CA<tspan dy="2.6" font-size="7.1">2</tspan></text>
<clipPath id="c2"><rect x="392.90" y="3.30" width="284.50" height="229.80"/></clipPath>
<g clip-path="url(#c2)">
<path d="M393.20 23.62 L398.88 16.98 L404.56 9.80 L409.38 3.70 L415.91 3.70 L421.59 3.70 L427.27 3.70 L432.95 3.70 L438.62 3.70 L444.30 3.70 L449.98 3.70 L455.66 3.70 L461.34 3.70 L467.01 3.70 L472.69 3.70 L478.37 3.70 L484.05 3.70 L489.73 3.70 L495.40 3.70 L501.08 3.70 L506.76 3.70 L512.44 3.70 L518.12 3.70 L523.79 3.70 L528.90 3.70 L535.15 25.23 L540.83 44.46 L546.51 62.55 L552.18 80.19 L557.86 96.90 L560.13 103.77 L563.54 110.87 L569.22 123.92 L574.90 135.83 L579.72 142.47 L586.25 149.12 L591.93 154.23 L597.61 159.34 L603.29 164.46 L608.96 169.80 L614.64 175.14 L620.32 180.49 L624.01 184.15 L626.85 188.27 L631.53 199.50 L637.35 203.74 L643.03 207.87 L648.71 212.01 L654.39 216.15 L660.07 220.29 L665.74 224.42 L671.42 228.56 L677.10 232.70" fill="none" stroke="#3c3c3c" stroke-width="0.95" stroke-linejoin="round"/>
<rect x="391.71" y="22.14" width="2.97" height="2.97" fill="#3c3c3c"/><rect x="397.39" y="15.50" width="2.97" height="2.97" fill="#3c3c3c"/><rect x="403.07" y="8.32" width="2.97" height="2.97" fill="#3c3c3c"/><rect x="407.90" y="2.21" width="2.97" height="2.97" fill="#3c3c3c"/><rect x="414.43" y="2.21" width="2.97" height="2.97" fill="#3c3c3c"/><rect x="420.10" y="2.21" width="2.97" height="2.97" fill="#3c3c3c"/><rect x="425.78" y="2.21" width="2.97" height="2.97" fill="#3c3c3c"/><rect x="431.46" y="2.21" width="2.97" height="2.97" fill="#3c3c3c"/><rect x="437.14" y="2.21" width="2.97" height="2.97" fill="#3c3c3c"/><rect x="442.82" y="2.21" width="2.97" height="2.97" fill="#3c3c3c"/><rect x="448.50" y="2.21" width="2.97" height="2.97" fill="#3c3c3c"/><rect x="454.17" y="2.21" width="2.97" height="2.97" fill="#3c3c3c"/><rect x="459.85" y="2.21" width="2.97" height="2.97" fill="#3c3c3c"/><rect x="465.53" y="2.21" width="2.97" height="2.97" fill="#3c3c3c"/><rect x="471.21" y="2.21" width="2.97" height="2.97" fill="#3c3c3c"/><rect x="476.88" y="2.21" width="2.97" height="2.97" fill="#3c3c3c"/><rect x="482.56" y="2.21" width="2.97" height="2.97" fill="#3c3c3c"/><rect x="488.24" y="2.21" width="2.97" height="2.97" fill="#3c3c3c"/><rect x="493.92" y="2.21" width="2.97" height="2.97" fill="#3c3c3c"/><rect x="499.60" y="2.21" width="2.97" height="2.97" fill="#3c3c3c"/><rect x="505.27" y="2.21" width="2.97" height="2.97" fill="#3c3c3c"/><rect x="510.95" y="2.21" width="2.97" height="2.97" fill="#3c3c3c"/><rect x="516.63" y="2.21" width="2.97" height="2.97" fill="#3c3c3c"/><rect x="522.31" y="2.21" width="2.97" height="2.97" fill="#3c3c3c"/><rect x="527.42" y="2.21" width="2.97" height="2.97" fill="#3c3c3c"/><rect x="533.66" y="23.74" width="2.97" height="2.97" fill="#3c3c3c"/><rect x="539.34" y="42.98" width="2.97" height="2.97" fill="#3c3c3c"/><rect x="545.02" y="61.07" width="2.97" height="2.97" fill="#3c3c3c"/><rect x="550.70" y="78.70" width="2.97" height="2.97" fill="#3c3c3c"/><rect x="556.38" y="95.42" width="2.97" height="2.97" fill="#3c3c3c"/><rect x="558.65" y="102.29" width="2.97" height="2.97" fill="#3c3c3c"/><rect x="562.05" y="109.39" width="2.97" height="2.97" fill="#3c3c3c"/><rect x="567.73" y="122.44" width="2.97" height="2.97" fill="#3c3c3c"/><rect x="573.41" y="134.35" width="2.97" height="2.97" fill="#3c3c3c"/><rect x="578.24" y="140.99" width="2.97" height="2.97" fill="#3c3c3c"/><rect x="584.77" y="147.63" width="2.97" height="2.97" fill="#3c3c3c"/><rect x="590.45" y="152.74" width="2.97" height="2.97" fill="#3c3c3c"/><rect x="596.12" y="157.86" width="2.97" height="2.97" fill="#3c3c3c"/><rect x="601.80" y="162.97" width="2.97" height="2.97" fill="#3c3c3c"/><rect x="607.48" y="168.32" width="2.97" height="2.97" fill="#3c3c3c"/><rect x="613.16" y="173.66" width="2.97" height="2.97" fill="#3c3c3c"/><rect x="618.84" y="179.00" width="2.97" height="2.97" fill="#3c3c3c"/><rect x="622.53" y="182.67" width="2.97" height="2.97" fill="#3c3c3c"/><rect x="625.36" y="186.79" width="2.97" height="2.97" fill="#3c3c3c"/><rect x="630.05" y="198.01" width="2.97" height="2.97" fill="#3c3c3c"/><rect x="635.87" y="202.25" width="2.97" height="2.97" fill="#3c3c3c"/><rect x="641.55" y="206.39" width="2.97" height="2.97" fill="#3c3c3c"/><rect x="647.23" y="210.53" width="2.97" height="2.97" fill="#3c3c3c"/><rect x="652.90" y="214.66" width="2.97" height="2.97" fill="#3c3c3c"/><rect x="658.58" y="218.80" width="2.97" height="2.97" fill="#3c3c3c"/><rect x="664.26" y="222.94" width="2.97" height="2.97" fill="#3c3c3c"/><rect x="669.94" y="227.08" width="2.97" height="2.97" fill="#3c3c3c"/><rect x="675.62" y="231.21" width="2.97" height="2.97" fill="#3c3c3c"/>
<path d="M393.20 232.70 L398.88 232.70 L404.56 232.70 L410.23 232.70 L415.91 232.70 L421.59 232.70 L427.27 232.70 L432.95 232.70 L438.62 232.70 L444.30 232.70 L449.98 232.70 L455.66 232.70 L461.34 232.70 L467.01 232.70 L472.69 232.70 L478.37 232.70 L484.05 232.70 L489.73 232.70 L495.40 232.70 L501.08 232.70 L506.76 232.70 L512.44 232.70 L518.12 232.70 L523.79 232.70 L529.47 232.70 L535.15 232.70 L540.83 232.70 L546.51 232.70 L552.18 232.70 L557.86 232.70 L563.11 232.70 L569.22 222.62 L574.90 217.31 L576.32 215.98 L577.45 214.38 L578.59 232.70 L580.57 232.70 L586.25 232.70 L591.93 232.70 L597.61 232.70 L603.29 232.70 L608.96 232.70 L614.64 232.70 L620.32 232.70 L626.00 232.70 L631.68 232.70 L637.35 232.70 L643.03 232.70 L648.71 232.70 L654.39 232.70 L660.07 232.70 L665.74 232.70 L671.42 232.70 L677.10 232.70" fill="none" stroke="#e6323c" stroke-width="0.95" stroke-linejoin="round"/>
<circle cx="393.20" cy="232.70" r="1.73" fill="#e6323c"/><circle cx="398.88" cy="232.70" r="1.73" fill="#e6323c"/><circle cx="404.56" cy="232.70" r="1.73" fill="#e6323c"/><circle cx="410.23" cy="232.70" r="1.73" fill="#e6323c"/><circle cx="415.91" cy="232.70" r="1.73" fill="#e6323c"/><circle cx="421.59" cy="232.70" r="1.73" fill="#e6323c"/><circle cx="427.27" cy="232.70" r="1.73" fill="#e6323c"/><circle cx="432.95" cy="232.70" r="1.73" fill="#e6323c"/><circle cx="438.62" cy="232.70" r="1.73" fill="#e6323c"/><circle cx="444.30" cy="232.70" r="1.73" fill="#e6323c"/><circle cx="449.98" cy="232.70" r="1.73" fill="#e6323c"/><circle cx="455.66" cy="232.70" r="1.73" fill="#e6323c"/><circle cx="461.34" cy="232.70" r="1.73" fill="#e6323c"/><circle cx="467.01" cy="232.70" r="1.73" fill="#e6323c"/><circle cx="472.69" cy="232.70" r="1.73" fill="#e6323c"/><circle cx="478.37" cy="232.70" r="1.73" fill="#e6323c"/><circle cx="484.05" cy="232.70" r="1.73" fill="#e6323c"/><circle cx="489.73" cy="232.70" r="1.73" fill="#e6323c"/><circle cx="495.40" cy="232.70" r="1.73" fill="#e6323c"/><circle cx="501.08" cy="232.70" r="1.73" fill="#e6323c"/><circle cx="506.76" cy="232.70" r="1.73" fill="#e6323c"/><circle cx="512.44" cy="232.70" r="1.73" fill="#e6323c"/><circle cx="518.12" cy="232.70" r="1.73" fill="#e6323c"/><circle cx="523.79" cy="232.70" r="1.73" fill="#e6323c"/><circle cx="529.47" cy="232.70" r="1.73" fill="#e6323c"/><circle cx="535.15" cy="232.70" r="1.73" fill="#e6323c"/><circle cx="540.83" cy="232.70" r="1.73" fill="#e6323c"/><circle cx="546.51" cy="232.70" r="1.73" fill="#e6323c"/><circle cx="552.18" cy="232.70" r="1.73" fill="#e6323c"/><circle cx="557.86" cy="232.70" r="1.73" fill="#e6323c"/><circle cx="563.11" cy="232.70" r="1.73" fill="#e6323c"/><circle cx="569.22" cy="222.62" r="1.73" fill="#e6323c"/><circle cx="574.90" cy="217.31" r="1.73" fill="#e6323c"/><circle cx="576.32" cy="215.98" r="1.73" fill="#e6323c"/><circle cx="577.45" cy="214.38" r="1.73" fill="#e6323c"/><circle cx="578.59" cy="232.70" r="1.73" fill="#e6323c"/><circle cx="580.57" cy="232.70" r="1.73" fill="#e6323c"/><circle cx="586.25" cy="232.70" r="1.73" fill="#e6323c"/><circle cx="591.93" cy="232.70" r="1.73" fill="#e6323c"/><circle cx="597.61" cy="232.70" r="1.73" fill="#e6323c"/><circle cx="603.29" cy="232.70" r="1.73" fill="#e6323c"/><circle cx="608.96" cy="232.70" r="1.73" fill="#e6323c"/><circle cx="614.64" cy="232.70" r="1.73" fill="#e6323c"/><circle cx="620.32" cy="232.70" r="1.73" fill="#e6323c"/><circle cx="626.00" cy="232.70" r="1.73" fill="#e6323c"/><circle cx="631.68" cy="232.70" r="1.73" fill="#e6323c"/><circle cx="637.35" cy="232.70" r="1.73" fill="#e6323c"/><circle cx="643.03" cy="232.70" r="1.73" fill="#e6323c"/><circle cx="648.71" cy="232.70" r="1.73" fill="#e6323c"/><circle cx="654.39" cy="232.70" r="1.73" fill="#e6323c"/><circle cx="660.07" cy="232.70" r="1.73" fill="#e6323c"/><circle cx="665.74" cy="232.70" r="1.73" fill="#e6323c"/><circle cx="671.42" cy="232.70" r="1.73" fill="#e6323c"/><circle cx="677.10" cy="232.70" r="1.73" fill="#e6323c"/>
<path d="M393.20 232.70 L398.88 232.70 L404.56 232.70 L410.23 232.70 L415.91 232.70 L421.59 232.70 L427.27 232.70 L432.95 232.70 L438.62 232.70 L444.30 232.70 L449.98 232.70 L455.66 232.70 L461.34 232.70 L467.01 232.70 L472.69 232.70 L478.37 232.70 L484.05 232.70 L489.73 232.70 L495.40 232.70 L501.08 232.70 L506.76 232.70 L512.44 232.70 L518.12 232.70 L523.79 232.70 L529.47 232.70 L535.15 232.70 L540.83 232.70 L546.51 232.70 L552.18 232.70 L557.86 232.70 L563.54 232.70 L569.22 232.70 L574.90 232.70 L578.59 232.70 L579.72 203.62 L585.26 195.83 L591.93 198.51 L597.61 200.79 L603.29 203.07 L608.96 205.35 L614.64 207.63 L620.32 209.91 L626.00 212.19 L631.68 214.46 L637.35 216.74 L643.03 219.02 L648.71 221.30 L654.39 223.58 L660.07 225.86 L665.74 228.14 L671.42 230.42 L677.10 232.70" fill="none" stroke="#1f74d2" stroke-width="0.95" stroke-linejoin="round"/>
<path d="M393.20 230.64L395.26 234.35L391.14 234.35Z" fill="#1f74d2"/><path d="M398.88 230.64L400.94 234.35L396.82 234.35Z" fill="#1f74d2"/><path d="M404.56 230.64L406.62 234.35L402.49 234.35Z" fill="#1f74d2"/><path d="M410.23 230.64L412.30 234.35L408.17 234.35Z" fill="#1f74d2"/><path d="M415.91 230.64L417.97 234.35L413.85 234.35Z" fill="#1f74d2"/><path d="M421.59 230.64L423.65 234.35L419.53 234.35Z" fill="#1f74d2"/><path d="M427.27 230.64L429.33 234.35L425.21 234.35Z" fill="#1f74d2"/><path d="M432.95 230.64L435.01 234.35L430.88 234.35Z" fill="#1f74d2"/><path d="M438.62 230.64L440.69 234.35L436.56 234.35Z" fill="#1f74d2"/><path d="M444.30 230.64L446.36 234.35L442.24 234.35Z" fill="#1f74d2"/><path d="M449.98 230.64L452.04 234.35L447.92 234.35Z" fill="#1f74d2"/><path d="M455.66 230.64L457.72 234.35L453.60 234.35Z" fill="#1f74d2"/><path d="M461.34 230.64L463.40 234.35L459.27 234.35Z" fill="#1f74d2"/><path d="M467.01 230.64L469.08 234.35L464.95 234.35Z" fill="#1f74d2"/><path d="M472.69 230.64L474.75 234.35L470.63 234.35Z" fill="#1f74d2"/><path d="M478.37 230.64L480.43 234.35L476.31 234.35Z" fill="#1f74d2"/><path d="M484.05 230.64L486.11 234.35L481.99 234.35Z" fill="#1f74d2"/><path d="M489.73 230.64L491.79 234.35L487.66 234.35Z" fill="#1f74d2"/><path d="M495.40 230.64L497.47 234.35L493.34 234.35Z" fill="#1f74d2"/><path d="M501.08 230.64L503.14 234.35L499.02 234.35Z" fill="#1f74d2"/><path d="M506.76 230.64L508.82 234.35L504.70 234.35Z" fill="#1f74d2"/><path d="M512.44 230.64L514.50 234.35L510.38 234.35Z" fill="#1f74d2"/><path d="M518.12 230.64L520.18 234.35L516.05 234.35Z" fill="#1f74d2"/><path d="M523.79 230.64L525.86 234.35L521.73 234.35Z" fill="#1f74d2"/><path d="M529.47 230.64L531.53 234.35L527.41 234.35Z" fill="#1f74d2"/><path d="M535.15 230.64L537.21 234.35L533.09 234.35Z" fill="#1f74d2"/><path d="M540.83 230.64L542.89 234.35L538.77 234.35Z" fill="#1f74d2"/><path d="M546.51 230.64L548.57 234.35L544.44 234.35Z" fill="#1f74d2"/><path d="M552.18 230.64L554.25 234.35L550.12 234.35Z" fill="#1f74d2"/><path d="M557.86 230.64L559.92 234.35L555.80 234.35Z" fill="#1f74d2"/><path d="M563.54 230.64L565.60 234.35L561.48 234.35Z" fill="#1f74d2"/><path d="M569.22 230.64L571.28 234.35L567.16 234.35Z" fill="#1f74d2"/><path d="M574.90 230.64L576.96 234.35L572.83 234.35Z" fill="#1f74d2"/><path d="M578.59 230.64L580.65 234.35L576.52 234.35Z" fill="#1f74d2"/><path d="M579.72 201.55L581.78 205.27L577.66 205.27Z" fill="#1f74d2"/><path d="M585.26 193.77L587.32 197.48L583.20 197.48Z" fill="#1f74d2"/><path d="M591.93 196.45L593.99 200.16L589.87 200.16Z" fill="#1f74d2"/><path d="M597.61 198.73L599.67 202.44L595.55 202.44Z" fill="#1f74d2"/><path d="M603.29 201.01L605.35 204.72L601.22 204.72Z" fill="#1f74d2"/><path d="M608.96 203.28L611.03 207.00L606.90 207.00Z" fill="#1f74d2"/><path d="M614.64 205.56L616.70 209.28L612.58 209.28Z" fill="#1f74d2"/><path d="M620.32 207.84L622.38 211.56L618.26 211.56Z" fill="#1f74d2"/><path d="M626.00 210.12L628.06 213.84L623.94 213.84Z" fill="#1f74d2"/><path d="M631.68 212.40L633.74 216.11L629.61 216.11Z" fill="#1f74d2"/><path d="M637.35 214.68L639.42 218.39L635.29 218.39Z" fill="#1f74d2"/><path d="M643.03 216.96L645.09 220.67L640.97 220.67Z" fill="#1f74d2"/><path d="M648.71 219.24L650.77 222.95L646.65 222.95Z" fill="#1f74d2"/><path d="M654.39 221.52L656.45 225.23L652.33 225.23Z" fill="#1f74d2"/><path d="M660.07 223.80L662.13 227.51L658.00 227.51Z" fill="#1f74d2"/><path d="M665.74 226.08L667.81 229.79L663.68 229.79Z" fill="#1f74d2"/><path d="M671.42 228.36L673.48 232.07L669.36 232.07Z" fill="#1f74d2"/><path d="M677.10 230.64L679.16 234.35L675.04 234.35Z" fill="#1f74d2"/>
<path d="M393.20 232.70 L398.88 232.70 L404.56 232.70 L410.23 232.70 L415.91 232.70 L421.59 232.70 L427.27 232.70 L432.95 232.70 L438.62 232.70 L444.30 232.70 L449.98 232.70 L455.66 232.70 L461.34 232.70 L467.01 232.70 L472.69 232.70 L478.37 232.70 L484.05 232.70 L489.73 232.70 L495.40 232.70 L501.08 232.70 L506.76 232.70 L512.44 232.70 L518.12 232.70 L523.79 232.70 L529.47 232.70 L535.15 232.70 L540.83 232.70 L546.51 232.70 L552.18 232.70 L557.86 232.70 L563.54 232.70 L569.22 232.70 L574.90 232.70 L580.57 232.70 L586.25 232.70 L591.93 232.70 L597.61 232.70 L603.29 232.70 L608.96 232.70 L614.64 232.70 L620.32 232.70 L626.00 232.70 L631.68 232.70 L637.35 232.70 L643.03 232.70 L648.71 232.70 L654.39 232.70 L660.07 232.70 L665.74 232.70 L671.42 232.70 L677.10 232.70" fill="none" stroke="#1fa373" stroke-width="0.95" stroke-linejoin="round"/>
<path d="M393.20 234.76L395.26 231.05L391.14 231.05Z" fill="#1fa373"/><path d="M398.88 234.76L400.94 231.05L396.82 231.05Z" fill="#1fa373"/><path d="M404.56 234.76L406.62 231.05L402.49 231.05Z" fill="#1fa373"/><path d="M410.23 234.76L412.30 231.05L408.17 231.05Z" fill="#1fa373"/><path d="M415.91 234.76L417.97 231.05L413.85 231.05Z" fill="#1fa373"/><path d="M421.59 234.76L423.65 231.05L419.53 231.05Z" fill="#1fa373"/><path d="M427.27 234.76L429.33 231.05L425.21 231.05Z" fill="#1fa373"/><path d="M432.95 234.76L435.01 231.05L430.88 231.05Z" fill="#1fa373"/><path d="M438.62 234.76L440.69 231.05L436.56 231.05Z" fill="#1fa373"/><path d="M444.30 234.76L446.36 231.05L442.24 231.05Z" fill="#1fa373"/><path d="M449.98 234.76L452.04 231.05L447.92 231.05Z" fill="#1fa373"/><path d="M455.66 234.76L457.72 231.05L453.60 231.05Z" fill="#1fa373"/><path d="M461.34 234.76L463.40 231.05L459.27 231.05Z" fill="#1fa373"/><path d="M467.01 234.76L469.08 231.05L464.95 231.05Z" fill="#1fa373"/><path d="M472.69 234.76L474.75 231.05L470.63 231.05Z" fill="#1fa373"/><path d="M478.37 234.76L480.43 231.05L476.31 231.05Z" fill="#1fa373"/><path d="M484.05 234.76L486.11 231.05L481.99 231.05Z" fill="#1fa373"/><path d="M489.73 234.76L491.79 231.05L487.66 231.05Z" fill="#1fa373"/><path d="M495.40 234.76L497.47 231.05L493.34 231.05Z" fill="#1fa373"/><path d="M501.08 234.76L503.14 231.05L499.02 231.05Z" fill="#1fa373"/><path d="M506.76 234.76L508.82 231.05L504.70 231.05Z" fill="#1fa373"/><path d="M512.44 234.76L514.50 231.05L510.38 231.05Z" fill="#1fa373"/><path d="M518.12 234.76L520.18 231.05L516.05 231.05Z" fill="#1fa373"/><path d="M523.79 234.76L525.86 231.05L521.73 231.05Z" fill="#1fa373"/><path d="M529.47 234.76L531.53 231.05L527.41 231.05Z" fill="#1fa373"/><path d="M535.15 234.76L537.21 231.05L533.09 231.05Z" fill="#1fa373"/><path d="M540.83 234.76L542.89 231.05L538.77 231.05Z" fill="#1fa373"/><path d="M546.51 234.76L548.57 231.05L544.44 231.05Z" fill="#1fa373"/><path d="M552.18 234.76L554.25 231.05L550.12 231.05Z" fill="#1fa373"/><path d="M557.86 234.76L559.92 231.05L555.80 231.05Z" fill="#1fa373"/><path d="M563.54 234.76L565.60 231.05L561.48 231.05Z" fill="#1fa373"/><path d="M569.22 234.76L571.28 231.05L567.16 231.05Z" fill="#1fa373"/><path d="M574.90 234.76L576.96 231.05L572.83 231.05Z" fill="#1fa373"/><path d="M580.57 234.76L582.64 231.05L578.51 231.05Z" fill="#1fa373"/><path d="M586.25 234.76L588.31 231.05L584.19 231.05Z" fill="#1fa373"/><path d="M591.93 234.76L593.99 231.05L589.87 231.05Z" fill="#1fa373"/><path d="M597.61 234.76L599.67 231.05L595.55 231.05Z" fill="#1fa373"/><path d="M603.29 234.76L605.35 231.05L601.22 231.05Z" fill="#1fa373"/><path d="M608.96 234.76L611.03 231.05L606.90 231.05Z" fill="#1fa373"/><path d="M614.64 234.76L616.70 231.05L612.58 231.05Z" fill="#1fa373"/><path d="M620.32 234.76L622.38 231.05L618.26 231.05Z" fill="#1fa373"/><path d="M626.00 234.76L628.06 231.05L623.94 231.05Z" fill="#1fa373"/><path d="M631.68 234.76L633.74 231.05L629.61 231.05Z" fill="#1fa373"/><path d="M637.35 234.76L639.42 231.05L635.29 231.05Z" fill="#1fa373"/><path d="M643.03 234.76L645.09 231.05L640.97 231.05Z" fill="#1fa373"/><path d="M648.71 234.76L650.77 231.05L646.65 231.05Z" fill="#1fa373"/><path d="M654.39 234.76L656.45 231.05L652.33 231.05Z" fill="#1fa373"/><path d="M660.07 234.76L662.13 231.05L658.00 231.05Z" fill="#1fa373"/><path d="M665.74 234.76L667.81 231.05L663.68 231.05Z" fill="#1fa373"/><path d="M671.42 234.76L673.48 231.05L669.36 231.05Z" fill="#1fa373"/><path d="M677.10 234.76L679.16 231.05L675.04 231.05Z" fill="#1fa373"/>
<path d="M393.20 232.70 L398.88 232.70 L404.56 232.70 L410.23 232.70 L415.91 232.70 L421.59 232.70 L427.27 232.70 L432.95 232.70 L438.62 232.70 L444.30 232.70 L449.98 232.70 L455.66 232.70 L461.34 232.70 L467.01 232.70 L472.69 232.70 L478.37 232.70 L484.05 232.70 L489.73 232.70 L495.40 232.70 L501.08 232.70 L506.76 232.70 L512.44 232.70 L518.12 232.70 L523.79 232.70 L529.47 232.70 L535.15 232.70 L540.83 232.70 L546.51 232.70 L552.18 232.70 L557.86 232.70 L563.54 232.70 L569.22 232.70 L574.90 232.70 L580.57 232.70 L585.97 232.70 L591.93 207.95 L597.61 184.37 L603.29 160.80 L608.96 137.23 L614.64 113.65 L620.32 90.08 L624.58 72.40 L626.00 68.85 L631.53 55.00 L637.35 77.69 L643.03 99.84 L648.71 121.98 L654.39 144.12 L660.07 166.27 L665.74 188.41 L671.42 210.56 L677.10 232.70" fill="none" stroke="#9a6bc9" stroke-width="0.95" stroke-linejoin="round"/>
<path d="M393.20 230.64L395.26 232.70L393.20 234.76L391.14 232.70Z" fill="#9a6bc9"/><path d="M398.88 230.64L400.94 232.70L398.88 234.76L396.82 232.70Z" fill="#9a6bc9"/><path d="M404.56 230.64L406.62 232.70L404.56 234.76L402.49 232.70Z" fill="#9a6bc9"/><path d="M410.23 230.64L412.30 232.70L410.23 234.76L408.17 232.70Z" fill="#9a6bc9"/><path d="M415.91 230.64L417.97 232.70L415.91 234.76L413.85 232.70Z" fill="#9a6bc9"/><path d="M421.59 230.64L423.65 232.70L421.59 234.76L419.53 232.70Z" fill="#9a6bc9"/><path d="M427.27 230.64L429.33 232.70L427.27 234.76L425.21 232.70Z" fill="#9a6bc9"/><path d="M432.95 230.64L435.01 232.70L432.95 234.76L430.88 232.70Z" fill="#9a6bc9"/><path d="M438.62 230.64L440.69 232.70L438.62 234.76L436.56 232.70Z" fill="#9a6bc9"/><path d="M444.30 230.64L446.36 232.70L444.30 234.76L442.24 232.70Z" fill="#9a6bc9"/><path d="M449.98 230.64L452.04 232.70L449.98 234.76L447.92 232.70Z" fill="#9a6bc9"/><path d="M455.66 230.64L457.72 232.70L455.66 234.76L453.60 232.70Z" fill="#9a6bc9"/><path d="M461.34 230.64L463.40 232.70L461.34 234.76L459.27 232.70Z" fill="#9a6bc9"/><path d="M467.01 230.64L469.08 232.70L467.01 234.76L464.95 232.70Z" fill="#9a6bc9"/><path d="M472.69 230.64L474.75 232.70L472.69 234.76L470.63 232.70Z" fill="#9a6bc9"/><path d="M478.37 230.64L480.43 232.70L478.37 234.76L476.31 232.70Z" fill="#9a6bc9"/><path d="M484.05 230.64L486.11 232.70L484.05 234.76L481.99 232.70Z" fill="#9a6bc9"/><path d="M489.73 230.64L491.79 232.70L489.73 234.76L487.66 232.70Z" fill="#9a6bc9"/><path d="M495.40 230.64L497.47 232.70L495.40 234.76L493.34 232.70Z" fill="#9a6bc9"/><path d="M501.08 230.64L503.14 232.70L501.08 234.76L499.02 232.70Z" fill="#9a6bc9"/><path d="M506.76 230.64L508.82 232.70L506.76 234.76L504.70 232.70Z" fill="#9a6bc9"/><path d="M512.44 230.64L514.50 232.70L512.44 234.76L510.38 232.70Z" fill="#9a6bc9"/><path d="M518.12 230.64L520.18 232.70L518.12 234.76L516.05 232.70Z" fill="#9a6bc9"/><path d="M523.79 230.64L525.86 232.70L523.79 234.76L521.73 232.70Z" fill="#9a6bc9"/><path d="M529.47 230.64L531.53 232.70L529.47 234.76L527.41 232.70Z" fill="#9a6bc9"/><path d="M535.15 230.64L537.21 232.70L535.15 234.76L533.09 232.70Z" fill="#9a6bc9"/><path d="M540.83 230.64L542.89 232.70L540.83 234.76L538.77 232.70Z" fill="#9a6bc9"/><path d="M546.51 230.64L548.57 232.70L546.51 234.76L544.44 232.70Z" fill="#9a6bc9"/><path d="M552.18 230.64L554.25 232.70L552.18 234.76L550.12 232.70Z" fill="#9a6bc9"/><path d="M557.86 230.64L559.92 232.70L557.86 234.76L555.80 232.70Z" fill="#9a6bc9"/><path d="M563.54 230.64L565.60 232.70L563.54 234.76L561.48 232.70Z" fill="#9a6bc9"/><path d="M569.22 230.64L571.28 232.70L569.22 234.76L567.16 232.70Z" fill="#9a6bc9"/><path d="M574.90 230.64L576.96 232.70L574.90 234.76L572.83 232.70Z" fill="#9a6bc9"/><path d="M580.57 230.64L582.64 232.70L580.57 234.76L578.51 232.70Z" fill="#9a6bc9"/><path d="M585.97 230.64L588.03 232.70L585.97 234.76L583.91 232.70Z" fill="#9a6bc9"/><path d="M591.93 205.89L593.99 207.95L591.93 210.01L589.87 207.95Z" fill="#9a6bc9"/><path d="M597.61 182.31L599.67 184.37L597.61 186.44L595.55 184.37Z" fill="#9a6bc9"/><path d="M603.29 158.74L605.35 160.80L603.29 162.86L601.22 160.80Z" fill="#9a6bc9"/><path d="M608.96 135.16L611.03 137.23L608.96 139.29L606.90 137.23Z" fill="#9a6bc9"/><path d="M614.64 111.59L616.70 113.65L614.64 115.72L612.58 113.65Z" fill="#9a6bc9"/><path d="M620.32 88.02L622.38 90.08L620.32 92.14L618.26 90.08Z" fill="#9a6bc9"/><path d="M624.58 70.34L626.64 72.40L624.58 74.46L622.52 72.40Z" fill="#9a6bc9"/><path d="M626.00 66.79L628.06 68.85L626.00 70.91L623.94 68.85Z" fill="#9a6bc9"/><path d="M631.53 52.93L633.60 55.00L631.53 57.06L629.47 55.00Z" fill="#9a6bc9"/><path d="M637.35 75.63L639.42 77.69L637.35 79.76L635.29 77.69Z" fill="#9a6bc9"/><path d="M643.03 97.77L645.09 99.84L643.03 101.90L640.97 99.84Z" fill="#9a6bc9"/><path d="M648.71 119.92L650.77 121.98L648.71 124.04L646.65 121.98Z" fill="#9a6bc9"/><path d="M654.39 142.06L656.45 144.12L654.39 146.19L652.33 144.12Z" fill="#9a6bc9"/><path d="M660.07 164.21L662.13 166.27L660.07 168.33L658.00 166.27Z" fill="#9a6bc9"/><path d="M665.74 186.35L667.81 188.41L665.74 190.47L663.68 188.41Z" fill="#9a6bc9"/><path d="M671.42 208.49L673.48 210.56L671.42 212.62L669.36 210.56Z" fill="#9a6bc9"/><path d="M677.10 230.64L679.16 232.70L677.10 234.76L675.04 232.70Z" fill="#9a6bc9"/>
<path d="M393.20 232.70 L398.88 232.70 L404.56 232.70 L410.23 232.70 L415.91 232.70 L421.59 232.70 L427.27 232.70 L432.95 232.70 L438.62 232.70 L444.30 232.70 L449.98 232.70 L455.66 232.70 L461.34 232.70 L467.01 232.70 L472.69 232.70 L478.37 232.70 L484.05 232.70 L489.73 232.70 L495.40 232.70 L501.08 232.70 L506.76 232.70 L512.44 232.70 L518.12 232.70 L523.79 232.70 L529.84 232.70 L535.15 215.56 L540.83 197.24 L546.51 178.91 L552.18 160.58 L557.86 142.25 L563.11 125.30 L569.22 120.32 L574.90 115.70 L576.88 114.08 L580.57 122.32 L586.08 122.32 L591.93 139.34 L597.61 155.87 L603.29 172.39 L608.96 188.91 L614.64 205.44 L620.32 221.96 L624.01 232.70 L626.00 232.70 L631.68 232.70 L637.35 232.70 L643.03 232.70 L648.71 232.70 L654.39 232.70 L660.07 232.70 L665.74 232.70 L671.42 232.70 L677.10 232.70" fill="none" stroke="#c9960c" stroke-width="0.95" stroke-linejoin="round"/>
<path d="M391.14 232.70L394.85 230.64L394.85 234.76Z" fill="#c9960c"/><path d="M396.82 232.70L400.53 230.64L400.53 234.76Z" fill="#c9960c"/><path d="M402.49 232.70L406.21 230.64L406.21 234.76Z" fill="#c9960c"/><path d="M408.17 232.70L411.88 230.64L411.88 234.76Z" fill="#c9960c"/><path d="M413.85 232.70L417.56 230.64L417.56 234.76Z" fill="#c9960c"/><path d="M419.53 232.70L423.24 230.64L423.24 234.76Z" fill="#c9960c"/><path d="M425.21 232.70L428.92 230.64L428.92 234.76Z" fill="#c9960c"/><path d="M430.88 232.70L434.60 230.64L434.60 234.76Z" fill="#c9960c"/><path d="M436.56 232.70L440.27 230.64L440.27 234.76Z" fill="#c9960c"/><path d="M442.24 232.70L445.95 230.64L445.95 234.76Z" fill="#c9960c"/><path d="M447.92 232.70L451.63 230.64L451.63 234.76Z" fill="#c9960c"/><path d="M453.60 232.70L457.31 230.64L457.31 234.76Z" fill="#c9960c"/><path d="M459.27 232.70L462.99 230.64L462.99 234.76Z" fill="#c9960c"/><path d="M464.95 232.70L468.66 230.64L468.66 234.76Z" fill="#c9960c"/><path d="M470.63 232.70L474.34 230.64L474.34 234.76Z" fill="#c9960c"/><path d="M476.31 232.70L480.02 230.64L480.02 234.76Z" fill="#c9960c"/><path d="M481.99 232.70L485.70 230.64L485.70 234.76Z" fill="#c9960c"/><path d="M487.66 232.70L491.38 230.64L491.38 234.76Z" fill="#c9960c"/><path d="M493.34 232.70L497.05 230.64L497.05 234.76Z" fill="#c9960c"/><path d="M499.02 232.70L502.73 230.64L502.73 234.76Z" fill="#c9960c"/><path d="M504.70 232.70L508.41 230.64L508.41 234.76Z" fill="#c9960c"/><path d="M510.38 232.70L514.09 230.64L514.09 234.76Z" fill="#c9960c"/><path d="M516.05 232.70L519.77 230.64L519.77 234.76Z" fill="#c9960c"/><path d="M521.73 232.70L525.44 230.64L525.44 234.76Z" fill="#c9960c"/><path d="M527.78 232.70L531.49 230.64L531.49 234.76Z" fill="#c9960c"/><path d="M533.09 215.56L536.80 213.50L536.80 217.63Z" fill="#c9960c"/><path d="M538.77 197.24L542.48 195.17L542.48 199.30Z" fill="#c9960c"/><path d="M544.44 178.91L548.16 176.85L548.16 180.97Z" fill="#c9960c"/><path d="M550.12 160.58L553.83 158.52L553.83 162.64Z" fill="#c9960c"/><path d="M555.80 142.25L559.51 140.19L559.51 144.31Z" fill="#c9960c"/><path d="M561.05 125.30L564.76 123.24L564.76 127.36Z" fill="#c9960c"/><path d="M567.16 120.32L570.87 118.26L570.87 122.39Z" fill="#c9960c"/><path d="M572.83 115.70L576.55 113.64L576.55 117.76Z" fill="#c9960c"/><path d="M574.82 114.08L578.53 112.02L578.53 116.14Z" fill="#c9960c"/><path d="M578.51 122.32L582.22 120.26L582.22 124.38Z" fill="#c9960c"/><path d="M584.02 122.32L587.73 120.26L587.73 124.38Z" fill="#c9960c"/><path d="M589.87 139.34L593.58 137.28L593.58 141.40Z" fill="#c9960c"/><path d="M595.55 155.87L599.26 153.80L599.26 157.93Z" fill="#c9960c"/><path d="M601.22 172.39L604.94 170.33L604.94 174.45Z" fill="#c9960c"/><path d="M606.90 188.91L610.61 186.85L610.61 190.97Z" fill="#c9960c"/><path d="M612.58 205.44L616.29 203.37L616.29 207.50Z" fill="#c9960c"/><path d="M618.26 221.96L621.97 219.90L621.97 224.02Z" fill="#c9960c"/><path d="M621.95 232.70L625.66 230.64L625.66 234.76Z" fill="#c9960c"/><path d="M623.94 232.70L627.65 230.64L627.65 234.76Z" fill="#c9960c"/><path d="M629.61 232.70L633.33 230.64L633.33 234.76Z" fill="#c9960c"/><path d="M635.29 232.70L639.00 230.64L639.00 234.76Z" fill="#c9960c"/><path d="M640.97 232.70L644.68 230.64L644.68 234.76Z" fill="#c9960c"/><path d="M646.65 232.70L650.36 230.64L650.36 234.76Z" fill="#c9960c"/><path d="M652.33 232.70L656.04 230.64L656.04 234.76Z" fill="#c9960c"/><path d="M658.00 232.70L661.72 230.64L661.72 234.76Z" fill="#c9960c"/><path d="M663.68 232.70L667.39 230.64L667.39 234.76Z" fill="#c9960c"/><path d="M669.36 232.70L673.07 230.64L673.07 234.76Z" fill="#c9960c"/><path d="M675.04 232.70L678.75 230.64L678.75 234.76Z" fill="#c9960c"/>
</g>
<rect x="393.20" y="3.70" width="283.90" height="229.00" fill="none" stroke="#222" stroke-width="1.25"/>
<path d="M393.20 232.70v-4.2M393.20 3.70v4.2M393.20 232.70h4.2M677.10 232.70h-4.2M421.59 232.70v-2.2M421.59 3.70v2.2M393.20 209.80h2.2M677.10 209.80h-2.2M449.98 232.70v-4.2M449.98 3.70v4.2M393.20 186.90h4.2M677.10 186.90h-4.2M478.37 232.70v-2.2M478.37 3.70v2.2M393.20 164.00h2.2M677.10 164.00h-2.2M506.76 232.70v-4.2M506.76 3.70v4.2M393.20 141.10h4.2M677.10 141.10h-4.2M535.15 232.70v-2.2M535.15 3.70v2.2M393.20 118.20h2.2M677.10 118.20h-2.2M563.54 232.70v-4.2M563.54 3.70v4.2M393.20 95.30h4.2M677.10 95.30h-4.2M591.93 232.70v-2.2M591.93 3.70v2.2M393.20 72.40h2.2M677.10 72.40h-2.2M620.32 232.70v-4.2M620.32 3.70v4.2M393.20 49.50h4.2M677.10 49.50h-4.2M648.71 232.70v-2.2M648.71 3.70v2.2M393.20 26.60h2.2M677.10 26.60h-2.2M677.10 232.70v-4.2M677.10 3.70v4.2M393.20 3.70h4.2M677.10 3.70h-4.2" stroke="#262626" stroke-width="1" fill="none"/>
<g font-family="'Liberation Serif', serif" font-weight="bold" font-size="9.5" fill="#111" stroke="#111" stroke-width="0.18">
<text x="393.20" y="245.40" text-anchor="middle">0.0</text>
<text x="387.90" y="235.50" text-anchor="end">0</text>
<text x="449.98" y="245.40" text-anchor="middle">0.2</text>
<text x="387.90" y="189.70" text-anchor="end">20</text>
<text x="506.76" y="245.40" text-anchor="middle">0.4</text>
<text x="387.90" y="143.90" text-anchor="end">40</text>
<text x="563.54" y="245.40" text-anchor="middle">0.6</text>
<text x="387.90" y="98.10" text-anchor="end">60</text>
<text x="620.32" y="245.40" text-anchor="middle">0.8</text>
<text x="387.90" y="52.30" text-anchor="end">80</text>
<text x="677.10" y="245.40" text-anchor="middle">1.0</text>
<text x="387.90" y="6.50" text-anchor="end">100</text>
</g>
<text x="537.00" y="264.40" text-anchor="middle" font-family="'Liberation Serif', serif" font-size="13.0" fill="#111">Phase fraction of reactants</text>
<text transform="translate(365.30 117.50) rotate(-90)" text-anchor="middle" font-family="'Liberation Serif', serif" font-size="12.9" fill="#111">Content/g</text>
<text x="394.80" y="16.60" font-family="'Liberation Serif', serif" font-weight="bold" font-size="13.6" fill="#141414">Mi:0.25</text>
<rect x="426.40" y="19.10" width="98" height="93" fill="#fff" stroke="#555" stroke-width="0.8"/>
<path d="M427.70 26.60h23.9" stroke="#3c3c3c" stroke-width="1.05"/>
<rect x="438.21" y="25.12" width="2.97" height="2.97" fill="#3c3c3c"/>
<text x="455.10" y="30.20" font-family="'Liberation Serif', serif" font-size="10.8" fill="#111">Slag#1</text>
<path d="M427.70 39.90h23.9" stroke="#e6323c" stroke-width="1.05"/>
<circle cx="439.70" cy="39.90" r="1.73" fill="#e6323c"/>
<text x="455.10" y="43.50" font-family="'Liberation Serif', serif" font-size="10.8" fill="#111">CaMg<tspan dy="2.6" font-size="7.1">2</tspan><tspan dy="-2.6">Al</tspan><tspan dy="2.6" font-size="7.1">16</tspan><tspan dy="-2.6">O</tspan><tspan dy="2.6" font-size="7.1">27</tspan></text>
<path d="M427.70 55.50h23.9" stroke="#1f74d2" stroke-width="1.05"/>
<path d="M439.70 53.44L441.76 57.15L437.64 57.15Z" fill="#1f74d2"/>
<text x="455.10" y="59.10" font-family="'Liberation Serif', serif" font-size="10.8" fill="#111">Ca<tspan dy="2.6" font-size="7.1">2</tspan><tspan dy="-2.6">Mg</tspan><tspan dy="2.6" font-size="7.1">2</tspan><tspan dy="-2.6">Al</tspan><tspan dy="2.6" font-size="7.1">28</tspan><tspan dy="-2.6">O</tspan><tspan dy="2.6" font-size="7.1">46</tspan></text>
<path d="M427.70 71.30h23.9" stroke="#1fa373" stroke-width="1.05"/>
<path d="M439.70 73.36L441.76 69.65L437.64 69.65Z" fill="#1fa373"/>
<text x="455.10" y="74.90" font-family="'Liberation Serif', serif" font-size="10.8" fill="#111">aC<tspan dy="2.6" font-size="7.1">2</tspan><tspan dy="-2.6">SB</tspan></text>
<path d="M427.70 86.90h23.9" stroke="#9a6bc9" stroke-width="1.05"/>
<path d="M439.70 84.84L441.76 86.90L439.70 88.96L437.64 86.90Z" fill="#9a6bc9"/>
<text x="455.10" y="90.50" font-family="'Liberation Serif', serif" font-size="10.8" fill="#111">CA<tspan dy="2.6" font-size="7.1">6</tspan></text>
<path d="M427.70 102.40h23.9" stroke="#c9960c" stroke-width="1.05"/>
<path d="M437.64 102.40L441.35 100.34L441.35 104.46Z" fill="#c9960c"/>
<text x="455.10" y="106.00" font-family="'Liberation Serif', serif" font-size="10.8" fill="#111">CA<tspan dy="2.6" font-size="7.1">2</tspan></text>
<clipPath id="c3"><rect x="35.00" y="288.90" width="285.80" height="230.40"/></clipPath>
<g clip-path="url(#c3)">
<path d="M35.30 326.72 L39.29 317.77 L41.00 315.47 L46.71 308.36 L52.41 301.70 L58.12 295.73 L63.82 289.30 L69.52 289.30 L75.23 289.30 L80.93 289.30 L86.64 289.30 L92.34 289.30 L98.04 289.30 L103.75 289.30 L109.45 289.30 L115.16 289.30 L120.86 289.30 L126.56 289.30 L132.27 289.30 L137.97 289.30 L143.68 289.30 L149.38 289.30 L155.08 289.30 L160.79 289.30 L166.49 289.30 L172.20 289.30 L177.61 289.30 L183.75 313.64 L189.59 334.30 L195.01 354.28 L200.72 372.42 L206.82 388.95 L210.13 397.21 L211.84 402.72 L218.40 416.50 L223.45 426.37 L229.24 432.73 L231.80 435.56 L234.94 438.48 L240.64 443.80 L247.06 449.79 L252.05 454.48 L257.76 459.85 L263.46 465.21 L269.28 470.68 L274.87 482.59 L276.18 485.38 L280.57 488.70 L286.28 493.01 L291.98 497.33 L297.68 501.64 L303.39 505.96 L309.09 510.27 L314.80 514.59 L320.50 518.90" fill="none" stroke="#3c3c3c" stroke-width="0.95" stroke-linejoin="round"/>
<rect x="33.81" y="325.24" width="2.97" height="2.97" fill="#3c3c3c"/><rect x="37.81" y="316.29" width="2.97" height="2.97" fill="#3c3c3c"/><rect x="39.52" y="313.99" width="2.97" height="2.97" fill="#3c3c3c"/><rect x="45.22" y="306.87" width="2.97" height="2.97" fill="#3c3c3c"/><rect x="50.93" y="300.21" width="2.97" height="2.97" fill="#3c3c3c"/><rect x="56.63" y="294.24" width="2.97" height="2.97" fill="#3c3c3c"/><rect x="62.33" y="287.81" width="2.97" height="2.97" fill="#3c3c3c"/><rect x="68.04" y="287.81" width="2.97" height="2.97" fill="#3c3c3c"/><rect x="73.74" y="287.81" width="2.97" height="2.97" fill="#3c3c3c"/><rect x="79.45" y="287.81" width="2.97" height="2.97" fill="#3c3c3c"/><rect x="85.15" y="287.81" width="2.97" height="2.97" fill="#3c3c3c"/><rect x="90.86" y="287.81" width="2.97" height="2.97" fill="#3c3c3c"/><rect x="96.56" y="287.81" width="2.97" height="2.97" fill="#3c3c3c"/><rect x="102.26" y="287.81" width="2.97" height="2.97" fill="#3c3c3c"/><rect x="107.97" y="287.81" width="2.97" height="2.97" fill="#3c3c3c"/><rect x="113.67" y="287.81" width="2.97" height="2.97" fill="#3c3c3c"/><rect x="119.37" y="287.81" width="2.97" height="2.97" fill="#3c3c3c"/><rect x="125.08" y="287.81" width="2.97" height="2.97" fill="#3c3c3c"/><rect x="130.78" y="287.81" width="2.97" height="2.97" fill="#3c3c3c"/><rect x="136.49" y="287.81" width="2.97" height="2.97" fill="#3c3c3c"/><rect x="142.19" y="287.81" width="2.97" height="2.97" fill="#3c3c3c"/><rect x="147.89" y="287.81" width="2.97" height="2.97" fill="#3c3c3c"/><rect x="153.60" y="287.81" width="2.97" height="2.97" fill="#3c3c3c"/><rect x="159.30" y="287.81" width="2.97" height="2.97" fill="#3c3c3c"/><rect x="165.01" y="287.81" width="2.97" height="2.97" fill="#3c3c3c"/><rect x="170.71" y="287.81" width="2.97" height="2.97" fill="#3c3c3c"/><rect x="176.13" y="287.81" width="2.97" height="2.97" fill="#3c3c3c"/><rect x="182.26" y="312.15" width="2.97" height="2.97" fill="#3c3c3c"/><rect x="188.11" y="332.82" width="2.97" height="2.97" fill="#3c3c3c"/><rect x="193.53" y="352.79" width="2.97" height="2.97" fill="#3c3c3c"/><rect x="199.23" y="370.93" width="2.97" height="2.97" fill="#3c3c3c"/><rect x="205.33" y="387.46" width="2.97" height="2.97" fill="#3c3c3c"/><rect x="208.64" y="395.73" width="2.97" height="2.97" fill="#3c3c3c"/><rect x="210.35" y="401.24" width="2.97" height="2.97" fill="#3c3c3c"/><rect x="216.91" y="415.01" width="2.97" height="2.97" fill="#3c3c3c"/><rect x="221.96" y="424.89" width="2.97" height="2.97" fill="#3c3c3c"/><rect x="227.75" y="431.25" width="2.97" height="2.97" fill="#3c3c3c"/><rect x="230.32" y="434.07" width="2.97" height="2.97" fill="#3c3c3c"/><rect x="233.45" y="437.00" width="2.97" height="2.97" fill="#3c3c3c"/><rect x="239.16" y="442.32" width="2.97" height="2.97" fill="#3c3c3c"/><rect x="245.58" y="448.31" width="2.97" height="2.97" fill="#3c3c3c"/><rect x="250.57" y="453.00" width="2.97" height="2.97" fill="#3c3c3c"/><rect x="256.27" y="458.36" width="2.97" height="2.97" fill="#3c3c3c"/><rect x="261.97" y="463.73" width="2.97" height="2.97" fill="#3c3c3c"/><rect x="267.79" y="469.20" width="2.97" height="2.97" fill="#3c3c3c"/><rect x="273.38" y="481.10" width="2.97" height="2.97" fill="#3c3c3c"/><rect x="274.69" y="483.89" width="2.97" height="2.97" fill="#3c3c3c"/><rect x="279.09" y="487.22" width="2.97" height="2.97" fill="#3c3c3c"/><rect x="284.79" y="491.53" width="2.97" height="2.97" fill="#3c3c3c"/><rect x="290.50" y="495.84" width="2.97" height="2.97" fill="#3c3c3c"/><rect x="296.20" y="500.16" width="2.97" height="2.97" fill="#3c3c3c"/><rect x="301.90" y="504.47" width="2.97" height="2.97" fill="#3c3c3c"/><rect x="307.61" y="508.79" width="2.97" height="2.97" fill="#3c3c3c"/><rect x="313.31" y="513.10" width="2.97" height="2.97" fill="#3c3c3c"/><rect x="319.01" y="517.41" width="2.97" height="2.97" fill="#3c3c3c"/>
<path d="M35.30 518.90 L41.00 518.90 L46.71 518.90 L52.41 518.90 L58.12 518.90 L63.82 518.90 L69.52 518.90 L75.23 518.90 L80.93 518.90 L86.64 518.90 L92.34 518.90 L98.04 518.90 L103.75 518.90 L109.45 518.90 L115.16 518.90 L120.86 518.90 L126.56 518.90 L132.27 518.90 L137.97 518.90 L143.68 518.90 L149.38 518.90 L155.08 518.90 L160.79 518.90 L166.49 518.90 L172.20 518.90 L177.90 518.90 L183.60 518.90 L189.31 518.90 L195.01 518.90 L200.72 518.90 L206.42 518.90 L210.93 518.90 L212.12 517.03 L217.83 508.11 L223.45 503.29 L224.84 518.90 L229.24 518.90 L234.94 518.90 L240.64 518.90 L246.35 518.90 L252.05 518.90 L257.76 518.90 L263.46 518.90 L269.16 518.90 L274.87 518.90 L280.57 518.90 L286.28 518.90 L291.98 518.90 L297.68 518.90 L303.39 518.90 L309.09 518.90 L314.80 518.90 L320.50 518.90" fill="none" stroke="#e6323c" stroke-width="0.95" stroke-linejoin="round"/>
<circle cx="35.30" cy="518.90" r="1.73" fill="#e6323c"/><circle cx="41.00" cy="518.90" r="1.73" fill="#e6323c"/><circle cx="46.71" cy="518.90" r="1.73" fill="#e6323c"/><circle cx="52.41" cy="518.90" r="1.73" fill="#e6323c"/><circle cx="58.12" cy="518.90" r="1.73" fill="#e6323c"/><circle cx="63.82" cy="518.90" r="1.73" fill="#e6323c"/><circle cx="69.52" cy="518.90" r="1.73" fill="#e6323c"/><circle cx="75.23" cy="518.90" r="1.73" fill="#e6323c"/><circle cx="80.93" cy="518.90" r="1.73" fill="#e6323c"/><circle cx="86.64" cy="518.90" r="1.73" fill="#e6323c"/><circle cx="92.34" cy="518.90" r="1.73" fill="#e6323c"/><circle cx="98.04" cy="518.90" r="1.73" fill="#e6323c"/><circle cx="103.75" cy="518.90" r="1.73" fill="#e6323c"/><circle cx="109.45" cy="518.90" r="1.73" fill="#e6323c"/><circle cx="115.16" cy="518.90" r="1.73" fill="#e6323c"/><circle cx="120.86" cy="518.90" r="1.73" fill="#e6323c"/><circle cx="126.56" cy="518.90" r="1.73" fill="#e6323c"/><circle cx="132.27" cy="518.90" r="1.73" fill="#e6323c"/><circle cx="137.97" cy="518.90" r="1.73" fill="#e6323c"/><circle cx="143.68" cy="518.90" r="1.73" fill="#e6323c"/><circle cx="149.38" cy="518.90" r="1.73" fill="#e6323c"/><circle cx="155.08" cy="518.90" r="1.73" fill="#e6323c"/><circle cx="160.79" cy="518.90" r="1.73" fill="#e6323c"/><circle cx="166.49" cy="518.90" r="1.73" fill="#e6323c"/><circle cx="172.20" cy="518.90" r="1.73" fill="#e6323c"/><circle cx="177.90" cy="518.90" r="1.73" fill="#e6323c"/><circle cx="183.60" cy="518.90" r="1.73" fill="#e6323c"/><circle cx="189.31" cy="518.90" r="1.73" fill="#e6323c"/><circle cx="195.01" cy="518.90" r="1.73" fill="#e6323c"/><circle cx="200.72" cy="518.90" r="1.73" fill="#e6323c"/><circle cx="206.42" cy="518.90" r="1.73" fill="#e6323c"/><circle cx="210.93" cy="518.90" r="1.73" fill="#e6323c"/><circle cx="212.12" cy="517.03" r="1.73" fill="#e6323c"/><circle cx="217.83" cy="508.11" r="1.73" fill="#e6323c"/><circle cx="223.45" cy="503.29" r="1.73" fill="#e6323c"/><circle cx="224.84" cy="518.90" r="1.73" fill="#e6323c"/><circle cx="229.24" cy="518.90" r="1.73" fill="#e6323c"/><circle cx="234.94" cy="518.90" r="1.73" fill="#e6323c"/><circle cx="240.64" cy="518.90" r="1.73" fill="#e6323c"/><circle cx="246.35" cy="518.90" r="1.73" fill="#e6323c"/><circle cx="252.05" cy="518.90" r="1.73" fill="#e6323c"/><circle cx="257.76" cy="518.90" r="1.73" fill="#e6323c"/><circle cx="263.46" cy="518.90" r="1.73" fill="#e6323c"/><circle cx="269.16" cy="518.90" r="1.73" fill="#e6323c"/><circle cx="274.87" cy="518.90" r="1.73" fill="#e6323c"/><circle cx="280.57" cy="518.90" r="1.73" fill="#e6323c"/><circle cx="286.28" cy="518.90" r="1.73" fill="#e6323c"/><circle cx="291.98" cy="518.90" r="1.73" fill="#e6323c"/><circle cx="297.68" cy="518.90" r="1.73" fill="#e6323c"/><circle cx="303.39" cy="518.90" r="1.73" fill="#e6323c"/><circle cx="309.09" cy="518.90" r="1.73" fill="#e6323c"/><circle cx="314.80" cy="518.90" r="1.73" fill="#e6323c"/><circle cx="320.50" cy="518.90" r="1.73" fill="#e6323c"/>
<path d="M35.30 518.90 L41.00 518.90 L46.71 518.90 L52.41 518.90 L58.12 518.90 L63.82 518.90 L69.52 518.90 L75.23 518.90 L80.93 518.90 L86.64 518.90 L92.34 518.90 L98.04 518.90 L103.75 518.90 L109.45 518.90 L115.16 518.90 L120.86 518.90 L126.56 518.90 L132.27 518.90 L137.97 518.90 L143.68 518.90 L149.38 518.90 L155.08 518.90 L160.79 518.90 L166.49 518.90 L172.20 518.90 L177.90 518.90 L183.60 518.90 L189.31 518.90 L195.01 518.90 L200.72 518.90 L206.42 518.90 L212.12 518.90 L217.83 518.90 L223.53 518.90 L224.84 518.90 L226.24 492.96 L229.24 488.38 L231.80 484.46 L234.94 485.68 L240.64 487.89 L246.35 490.11 L252.05 492.32 L257.76 494.54 L263.46 496.75 L269.16 498.97 L274.87 501.18 L280.57 503.40 L286.28 505.61 L291.98 507.83 L297.68 510.04 L303.39 512.26 L309.09 514.47 L314.80 516.69 L320.50 518.90" fill="none" stroke="#1f74d2" stroke-width="0.95" stroke-linejoin="round"/>
<path d="M35.30 516.84L37.36 520.55L33.24 520.55Z" fill="#1f74d2"/><path d="M41.00 516.84L43.07 520.55L38.94 520.55Z" fill="#1f74d2"/><path d="M46.71 516.84L48.77 520.55L44.65 520.55Z" fill="#1f74d2"/><path d="M52.41 516.84L54.47 520.55L50.35 520.55Z" fill="#1f74d2"/><path d="M58.12 516.84L60.18 520.55L56.05 520.55Z" fill="#1f74d2"/><path d="M63.82 516.84L65.88 520.55L61.76 520.55Z" fill="#1f74d2"/><path d="M69.52 516.84L71.59 520.55L67.46 520.55Z" fill="#1f74d2"/><path d="M75.23 516.84L77.29 520.55L73.17 520.55Z" fill="#1f74d2"/><path d="M80.93 516.84L82.99 520.55L78.87 520.55Z" fill="#1f74d2"/><path d="M86.64 516.84L88.70 520.55L84.57 520.55Z" fill="#1f74d2"/><path d="M92.34 516.84L94.40 520.55L90.28 520.55Z" fill="#1f74d2"/><path d="M98.04 516.84L100.11 520.55L95.98 520.55Z" fill="#1f74d2"/><path d="M103.75 516.84L105.81 520.55L101.69 520.55Z" fill="#1f74d2"/><path d="M109.45 516.84L111.51 520.55L107.39 520.55Z" fill="#1f74d2"/><path d="M115.16 516.84L117.22 520.55L113.09 520.55Z" fill="#1f74d2"/><path d="M120.86 516.84L122.92 520.55L118.80 520.55Z" fill="#1f74d2"/><path d="M126.56 516.84L128.63 520.55L124.50 520.55Z" fill="#1f74d2"/><path d="M132.27 516.84L134.33 520.55L130.21 520.55Z" fill="#1f74d2"/><path d="M137.97 516.84L140.03 520.55L135.91 520.55Z" fill="#1f74d2"/><path d="M143.68 516.84L145.74 520.55L141.61 520.55Z" fill="#1f74d2"/><path d="M149.38 516.84L151.44 520.55L147.32 520.55Z" fill="#1f74d2"/><path d="M155.08 516.84L157.15 520.55L153.02 520.55Z" fill="#1f74d2"/><path d="M160.79 516.84L162.85 520.55L158.73 520.55Z" fill="#1f74d2"/><path d="M166.49 516.84L168.55 520.55L164.43 520.55Z" fill="#1f74d2"/><path d="M172.20 516.84L174.26 520.55L170.13 520.55Z" fill="#1f74d2"/><path d="M177.90 516.84L179.96 520.55L175.84 520.55Z" fill="#1f74d2"/><path d="M183.60 516.84L185.67 520.55L181.54 520.55Z" fill="#1f74d2"/><path d="M189.31 516.84L191.37 520.55L187.25 520.55Z" fill="#1f74d2"/><path d="M195.01 516.84L197.07 520.55L192.95 520.55Z" fill="#1f74d2"/><path d="M200.72 516.84L202.78 520.55L198.65 520.55Z" fill="#1f74d2"/><path d="M206.42 516.84L208.48 520.55L204.36 520.55Z" fill="#1f74d2"/><path d="M212.12 516.84L214.19 520.55L210.06 520.55Z" fill="#1f74d2"/><path d="M217.83 516.84L219.89 520.55L215.77 520.55Z" fill="#1f74d2"/><path d="M223.53 516.84L225.59 520.55L221.47 520.55Z" fill="#1f74d2"/><path d="M224.84 516.84L226.91 520.55L222.78 520.55Z" fill="#1f74d2"/><path d="M226.24 490.89L228.30 494.61L224.18 494.61Z" fill="#1f74d2"/><path d="M229.24 486.32L231.30 490.03L227.17 490.03Z" fill="#1f74d2"/><path d="M231.80 482.40L233.87 486.11L229.74 486.11Z" fill="#1f74d2"/><path d="M234.94 483.62L237.00 487.33L232.88 487.33Z" fill="#1f74d2"/><path d="M240.64 485.83L242.71 489.54L238.58 489.54Z" fill="#1f74d2"/><path d="M246.35 488.05L248.41 491.76L244.29 491.76Z" fill="#1f74d2"/><path d="M252.05 490.26L254.11 493.97L249.99 493.97Z" fill="#1f74d2"/><path d="M257.76 492.47L259.82 496.19L255.69 496.19Z" fill="#1f74d2"/><path d="M263.46 494.69L265.52 498.40L261.40 498.40Z" fill="#1f74d2"/><path d="M269.16 496.90L271.23 500.62L267.10 500.62Z" fill="#1f74d2"/><path d="M274.87 499.12L276.93 502.83L272.81 502.83Z" fill="#1f74d2"/><path d="M280.57 501.33L282.63 505.05L278.51 505.05Z" fill="#1f74d2"/><path d="M286.28 503.55L288.34 507.26L284.21 507.26Z" fill="#1f74d2"/><path d="M291.98 505.76L294.04 509.48L289.92 509.48Z" fill="#1f74d2"/><path d="M297.68 507.98L299.75 511.69L295.62 511.69Z" fill="#1f74d2"/><path d="M303.39 510.19L305.45 513.91L301.33 513.91Z" fill="#1f74d2"/><path d="M309.09 512.41L311.15 516.12L307.03 516.12Z" fill="#1f74d2"/><path d="M314.80 514.62L316.86 518.34L312.73 518.34Z" fill="#1f74d2"/><path d="M320.50 516.84L322.56 520.55L318.44 520.55Z" fill="#1f74d2"/>
<path d="M35.30 512.70 L38.72 518.90 L41.00 518.90 L46.71 518.90 L52.41 518.90 L58.12 518.90 L63.82 518.90 L69.52 518.90 L75.23 518.90 L80.93 518.90 L86.64 518.90 L92.34 518.90 L98.04 518.90 L103.75 518.90 L109.45 518.90 L115.16 518.90 L120.86 518.90 L126.56 518.90 L132.27 518.90 L137.97 518.90 L143.68 518.90 L149.38 518.90 L155.08 518.90 L160.79 518.90 L166.49 518.90 L172.20 518.90 L177.90 518.90 L183.60 518.90 L189.31 518.90 L195.01 518.90 L200.72 518.90 L206.42 518.90 L212.12 518.90 L217.83 518.90 L223.53 518.90 L229.24 518.90 L234.94 518.90 L240.64 518.90 L246.35 518.90 L252.05 518.90 L257.76 518.90 L263.46 518.90 L269.16 518.90 L274.87 518.90 L280.57 518.90 L286.28 518.90 L291.98 518.90 L297.68 518.90 L303.39 518.90 L309.09 518.90 L314.80 518.90 L320.50 518.90" fill="none" stroke="#1fa373" stroke-width="0.95" stroke-linejoin="round"/>
<path d="M35.30 514.76L37.36 511.05L33.24 511.05Z" fill="#1fa373"/><path d="M38.72 520.96L40.78 517.25L36.66 517.25Z" fill="#1fa373"/><path d="M41.00 520.96L43.07 517.25L38.94 517.25Z" fill="#1fa373"/><path d="M46.71 520.96L48.77 517.25L44.65 517.25Z" fill="#1fa373"/><path d="M52.41 520.96L54.47 517.25L50.35 517.25Z" fill="#1fa373"/><path d="M58.12 520.96L60.18 517.25L56.05 517.25Z" fill="#1fa373"/><path d="M63.82 520.96L65.88 517.25L61.76 517.25Z" fill="#1fa373"/><path d="M69.52 520.96L71.59 517.25L67.46 517.25Z" fill="#1fa373"/><path d="M75.23 520.96L77.29 517.25L73.17 517.25Z" fill="#1fa373"/><path d="M80.93 520.96L82.99 517.25L78.87 517.25Z" fill="#1fa373"/><path d="M86.64 520.96L88.70 517.25L84.57 517.25Z" fill="#1fa373"/><path d="M92.34 520.96L94.40 517.25L90.28 517.25Z" fill="#1fa373"/><path d="M98.04 520.96L100.11 517.25L95.98 517.25Z" fill="#1fa373"/><path d="M103.75 520.96L105.81 517.25L101.69 517.25Z" fill="#1fa373"/><path d="M109.45 520.96L111.51 517.25L107.39 517.25Z" fill="#1fa373"/><path d="M115.16 520.96L117.22 517.25L113.09 517.25Z" fill="#1fa373"/><path d="M120.86 520.96L122.92 517.25L118.80 517.25Z" fill="#1fa373"/><path d="M126.56 520.96L128.63 517.25L124.50 517.25Z" fill="#1fa373"/><path d="M132.27 520.96L134.33 517.25L130.21 517.25Z" fill="#1fa373"/><path d="M137.97 520.96L140.03 517.25L135.91 517.25Z" fill="#1fa373"/><path d="M143.68 520.96L145.74 517.25L141.61 517.25Z" fill="#1fa373"/><path d="M149.38 520.96L151.44 517.25L147.32 517.25Z" fill="#1fa373"/><path d="M155.08 520.96L157.15 517.25L153.02 517.25Z" fill="#1fa373"/><path d="M160.79 520.96L162.85 517.25L158.73 517.25Z" fill="#1fa373"/><path d="M166.49 520.96L168.55 517.25L164.43 517.25Z" fill="#1fa373"/><path d="M172.20 520.96L174.26 517.25L170.13 517.25Z" fill="#1fa373"/><path d="M177.90 520.96L179.96 517.25L175.84 517.25Z" fill="#1fa373"/><path d="M183.60 520.96L185.67 517.25L181.54 517.25Z" fill="#1fa373"/><path d="M189.31 520.96L191.37 517.25L187.25 517.25Z" fill="#1fa373"/><path d="M195.01 520.96L197.07 517.25L192.95 517.25Z" fill="#1fa373"/><path d="M200.72 520.96L202.78 517.25L198.65 517.25Z" fill="#1fa373"/><path d="M206.42 520.96L208.48 517.25L204.36 517.25Z" fill="#1fa373"/><path d="M212.12 520.96L214.19 517.25L210.06 517.25Z" fill="#1fa373"/><path d="M217.83 520.96L219.89 517.25L215.77 517.25Z" fill="#1fa373"/><path d="M223.53 520.96L225.59 517.25L221.47 517.25Z" fill="#1fa373"/><path d="M229.24 520.96L231.30 517.25L227.17 517.25Z" fill="#1fa373"/><path d="M234.94 520.96L237.00 517.25L232.88 517.25Z" fill="#1fa373"/><path d="M240.64 520.96L242.71 517.25L238.58 517.25Z" fill="#1fa373"/><path d="M246.35 520.96L248.41 517.25L244.29 517.25Z" fill="#1fa373"/><path d="M252.05 520.96L254.11 517.25L249.99 517.25Z" fill="#1fa373"/><path d="M257.76 520.96L259.82 517.25L255.69 517.25Z" fill="#1fa373"/><path d="M263.46 520.96L265.52 517.25L261.40 517.25Z" fill="#1fa373"/><path d="M269.16 520.96L271.23 517.25L267.10 517.25Z" fill="#1fa373"/><path d="M274.87 520.96L276.93 517.25L272.81 517.25Z" fill="#1fa373"/><path d="M280.57 520.96L282.63 517.25L278.51 517.25Z" fill="#1fa373"/><path d="M286.28 520.96L288.34 517.25L284.21 517.25Z" fill="#1fa373"/><path d="M291.98 520.96L294.04 517.25L289.92 517.25Z" fill="#1fa373"/><path d="M297.68 520.96L299.75 517.25L295.62 517.25Z" fill="#1fa373"/><path d="M303.39 520.96L305.45 517.25L301.33 517.25Z" fill="#1fa373"/><path d="M309.09 520.96L311.15 517.25L307.03 517.25Z" fill="#1fa373"/><path d="M314.80 520.96L316.86 517.25L312.73 517.25Z" fill="#1fa373"/><path d="M320.50 520.96L322.56 517.25L318.44 517.25Z" fill="#1fa373"/>
<path d="M35.30 518.90 L41.00 518.90 L46.71 518.90 L52.41 518.90 L58.12 518.90 L63.82 518.90 L69.52 518.90 L75.23 518.90 L80.93 518.90 L86.64 518.90 L92.34 518.90 L98.04 518.90 L103.75 518.90 L109.45 518.90 L115.16 518.90 L120.86 518.90 L126.56 518.90 L132.27 518.90 L137.97 518.90 L143.68 518.90 L149.38 518.90 L155.08 518.90 L160.79 518.90 L166.49 518.90 L172.20 518.90 L177.90 518.90 L183.60 518.90 L189.31 518.90 L195.01 518.90 L200.72 518.90 L206.42 518.90 L212.12 518.90 L217.83 518.90 L223.53 518.90 L229.24 518.90 L231.80 518.90 L234.94 505.57 L240.64 481.35 L246.35 457.12 L252.05 432.89 L257.76 408.66 L263.46 384.43 L270.02 356.57 L274.87 343.92 L276.18 340.50 L280.57 358.18 L286.28 381.14 L291.98 404.10 L297.68 427.06 L303.39 450.02 L309.09 472.98 L314.80 495.94 L320.50 518.90" fill="none" stroke="#9a6bc9" stroke-width="0.95" stroke-linejoin="round"/>
<path d="M35.30 516.84L37.36 518.90L35.30 520.96L33.24 518.90Z" fill="#9a6bc9"/><path d="M41.00 516.84L43.07 518.90L41.00 520.96L38.94 518.90Z" fill="#9a6bc9"/><path d="M46.71 516.84L48.77 518.90L46.71 520.96L44.65 518.90Z" fill="#9a6bc9"/><path d="M52.41 516.84L54.47 518.90L52.41 520.96L50.35 518.90Z" fill="#9a6bc9"/><path d="M58.12 516.84L60.18 518.90L58.12 520.96L56.05 518.90Z" fill="#9a6bc9"/><path d="M63.82 516.84L65.88 518.90L63.82 520.96L61.76 518.90Z" fill="#9a6bc9"/><path d="M69.52 516.84L71.59 518.90L69.52 520.96L67.46 518.90Z" fill="#9a6bc9"/><path d="M75.23 516.84L77.29 518.90L75.23 520.96L73.17 518.90Z" fill="#9a6bc9"/><path d="M80.93 516.84L82.99 518.90L80.93 520.96L78.87 518.90Z" fill="#9a6bc9"/><path d="M86.64 516.84L88.70 518.90L86.64 520.96L84.57 518.90Z" fill="#9a6bc9"/><path d="M92.34 516.84L94.40 518.90L92.34 520.96L90.28 518.90Z" fill="#9a6bc9"/><path d="M98.04 516.84L100.11 518.90L98.04 520.96L95.98 518.90Z" fill="#9a6bc9"/><path d="M103.75 516.84L105.81 518.90L103.75 520.96L101.69 518.90Z" fill="#9a6bc9"/><path d="M109.45 516.84L111.51 518.90L109.45 520.96L107.39 518.90Z" fill="#9a6bc9"/><path d="M115.16 516.84L117.22 518.90L115.16 520.96L113.09 518.90Z" fill="#9a6bc9"/><path d="M120.86 516.84L122.92 518.90L120.86 520.96L118.80 518.90Z" fill="#9a6bc9"/><path d="M126.56 516.84L128.63 518.90L126.56 520.96L124.50 518.90Z" fill="#9a6bc9"/><path d="M132.27 516.84L134.33 518.90L132.27 520.96L130.21 518.90Z" fill="#9a6bc9"/><path d="M137.97 516.84L140.03 518.90L137.97 520.96L135.91 518.90Z" fill="#9a6bc9"/><path d="M143.68 516.84L145.74 518.90L143.68 520.96L141.61 518.90Z" fill="#9a6bc9"/><path d="M149.38 516.84L151.44 518.90L149.38 520.96L147.32 518.90Z" fill="#9a6bc9"/><path d="M155.08 516.84L157.15 518.90L155.08 520.96L153.02 518.90Z" fill="#9a6bc9"/><path d="M160.79 516.84L162.85 518.90L160.79 520.96L158.73 518.90Z" fill="#9a6bc9"/><path d="M166.49 516.84L168.55 518.90L166.49 520.96L164.43 518.90Z" fill="#9a6bc9"/><path d="M172.20 516.84L174.26 518.90L172.20 520.96L170.13 518.90Z" fill="#9a6bc9"/><path d="M177.90 516.84L179.96 518.90L177.90 520.96L175.84 518.90Z" fill="#9a6bc9"/><path d="M183.60 516.84L185.67 518.90L183.60 520.96L181.54 518.90Z" fill="#9a6bc9"/><path d="M189.31 516.84L191.37 518.90L189.31 520.96L187.25 518.90Z" fill="#9a6bc9"/><path d="M195.01 516.84L197.07 518.90L195.01 520.96L192.95 518.90Z" fill="#9a6bc9"/><path d="M200.72 516.84L202.78 518.90L200.72 520.96L198.65 518.90Z" fill="#9a6bc9"/><path d="M206.42 516.84L208.48 518.90L206.42 520.96L204.36 518.90Z" fill="#9a6bc9"/><path d="M212.12 516.84L214.19 518.90L212.12 520.96L210.06 518.90Z" fill="#9a6bc9"/><path d="M217.83 516.84L219.89 518.90L217.83 520.96L215.77 518.90Z" fill="#9a6bc9"/><path d="M223.53 516.84L225.59 518.90L223.53 520.96L221.47 518.90Z" fill="#9a6bc9"/><path d="M229.24 516.84L231.30 518.90L229.24 520.96L227.17 518.90Z" fill="#9a6bc9"/><path d="M231.80 516.84L233.87 518.90L231.80 520.96L229.74 518.90Z" fill="#9a6bc9"/><path d="M234.94 503.51L237.00 505.57L234.94 507.64L232.88 505.57Z" fill="#9a6bc9"/><path d="M240.64 479.28L242.71 481.35L240.64 483.41L238.58 481.35Z" fill="#9a6bc9"/><path d="M246.35 455.06L248.41 457.12L246.35 459.18L244.29 457.12Z" fill="#9a6bc9"/><path d="M252.05 430.83L254.11 432.89L252.05 434.95L249.99 432.89Z" fill="#9a6bc9"/><path d="M257.76 406.60L259.82 408.66L257.76 410.73L255.69 408.66Z" fill="#9a6bc9"/><path d="M263.46 382.37L265.52 384.43L263.46 386.50L261.40 384.43Z" fill="#9a6bc9"/><path d="M270.02 354.51L272.08 356.57L270.02 358.64L267.96 356.57Z" fill="#9a6bc9"/><path d="M274.87 341.86L276.93 343.92L274.87 345.99L272.81 343.92Z" fill="#9a6bc9"/><path d="M276.18 338.44L278.24 340.50L276.18 342.56L274.12 340.50Z" fill="#9a6bc9"/><path d="M280.57 356.12L282.63 358.18L280.57 360.24L278.51 358.18Z" fill="#9a6bc9"/><path d="M286.28 379.08L288.34 381.14L286.28 383.20L284.21 381.14Z" fill="#9a6bc9"/><path d="M291.98 402.04L294.04 404.10L291.98 406.16L289.92 404.10Z" fill="#9a6bc9"/><path d="M297.68 425.00L299.75 427.06L297.68 429.12L295.62 427.06Z" fill="#9a6bc9"/><path d="M303.39 447.96L305.45 450.02L303.39 452.08L301.33 450.02Z" fill="#9a6bc9"/><path d="M309.09 470.92L311.15 472.98L309.09 475.04L307.03 472.98Z" fill="#9a6bc9"/><path d="M314.80 493.88L316.86 495.94L314.80 498.00L312.73 495.94Z" fill="#9a6bc9"/><path d="M320.50 516.84L322.56 518.90L320.50 520.96L318.44 518.90Z" fill="#9a6bc9"/>
<path d="M35.30 518.90 L41.00 518.90 L46.71 518.90 L52.41 518.90 L58.12 518.90 L63.82 518.90 L69.52 518.90 L75.23 518.90 L80.93 518.90 L86.64 518.90 L92.34 518.90 L98.04 518.90 L103.75 518.90 L109.45 518.90 L115.16 518.90 L120.86 518.90 L126.56 518.90 L132.27 518.90 L137.97 518.90 L143.68 518.90 L149.38 518.90 L155.08 518.90 L160.79 518.90 L166.49 518.90 L172.20 518.90 L177.61 518.90 L183.60 499.13 L189.31 480.29 L195.01 461.46 L200.72 442.63 L206.42 423.80 L210.93 408.92 L212.12 407.93 L217.83 403.23 L223.45 398.59 L226.67 406.40 L229.24 406.97 L231.80 407.54 L234.94 416.89 L240.64 433.90 L246.35 450.90 L252.05 467.90 L257.76 484.90 L263.46 501.90 L269.16 518.90 L274.87 518.90 L280.57 518.90 L286.28 518.90 L291.98 518.90 L297.68 518.90 L303.39 518.90 L309.09 518.90 L314.80 518.90 L320.50 518.90" fill="none" stroke="#c9960c" stroke-width="0.95" stroke-linejoin="round"/>
<path d="M33.24 518.90L36.95 516.84L36.95 520.96Z" fill="#c9960c"/><path d="M38.94 518.90L42.65 516.84L42.65 520.96Z" fill="#c9960c"/><path d="M44.65 518.90L48.36 516.84L48.36 520.96Z" fill="#c9960c"/><path d="M50.35 518.90L54.06 516.84L54.06 520.96Z" fill="#c9960c"/><path d="M56.05 518.90L59.77 516.84L59.77 520.96Z" fill="#c9960c"/><path d="M61.76 518.90L65.47 516.84L65.47 520.96Z" fill="#c9960c"/><path d="M67.46 518.90L71.17 516.84L71.17 520.96Z" fill="#c9960c"/><path d="M73.17 518.90L76.88 516.84L76.88 520.96Z" fill="#c9960c"/><path d="M78.87 518.90L82.58 516.84L82.58 520.96Z" fill="#c9960c"/><path d="M84.57 518.90L88.29 516.84L88.29 520.96Z" fill="#c9960c"/><path d="M90.28 518.90L93.99 516.84L93.99 520.96Z" fill="#c9960c"/><path d="M95.98 518.90L99.69 516.84L99.69 520.96Z" fill="#c9960c"/><path d="M101.69 518.90L105.40 516.84L105.40 520.96Z" fill="#c9960c"/><path d="M107.39 518.90L111.10 516.84L111.10 520.96Z" fill="#c9960c"/><path d="M113.09 518.90L116.81 516.84L116.81 520.96Z" fill="#c9960c"/><path d="M118.80 518.90L122.51 516.84L122.51 520.96Z" fill="#c9960c"/><path d="M124.50 518.90L128.21 516.84L128.21 520.96Z" fill="#c9960c"/><path d="M130.21 518.90L133.92 516.84L133.92 520.96Z" fill="#c9960c"/><path d="M135.91 518.90L139.62 516.84L139.62 520.96Z" fill="#c9960c"/><path d="M141.61 518.90L145.33 516.84L145.33 520.96Z" fill="#c9960c"/><path d="M147.32 518.90L151.03 516.84L151.03 520.96Z" fill="#c9960c"/><path d="M153.02 518.90L156.73 516.84L156.73 520.96Z" fill="#c9960c"/><path d="M158.73 518.90L162.44 516.84L162.44 520.96Z" fill="#c9960c"/><path d="M164.43 518.90L168.14 516.84L168.14 520.96Z" fill="#c9960c"/><path d="M170.13 518.90L173.85 516.84L173.85 520.96Z" fill="#c9960c"/><path d="M175.55 518.90L179.26 516.84L179.26 520.96Z" fill="#c9960c"/><path d="M181.54 499.13L185.25 497.06L185.25 501.19Z" fill="#c9960c"/><path d="M187.25 480.29L190.96 478.23L190.96 482.36Z" fill="#c9960c"/><path d="M192.95 461.46L196.66 459.40L196.66 463.53Z" fill="#c9960c"/><path d="M198.65 442.63L202.37 440.57L202.37 444.69Z" fill="#c9960c"/><path d="M204.36 423.80L208.07 421.74L208.07 425.86Z" fill="#c9960c"/><path d="M208.86 408.92L212.58 406.86L212.58 410.98Z" fill="#c9960c"/><path d="M210.06 407.93L213.77 405.87L213.77 410.00Z" fill="#c9960c"/><path d="M215.77 403.23L219.48 401.16L219.48 405.29Z" fill="#c9960c"/><path d="M221.38 398.59L225.10 396.53L225.10 400.65Z" fill="#c9960c"/><path d="M224.61 406.40L228.32 404.33L228.32 408.46Z" fill="#c9960c"/><path d="M227.17 406.97L230.89 404.91L230.89 409.03Z" fill="#c9960c"/><path d="M229.74 407.54L233.45 405.48L233.45 409.61Z" fill="#c9960c"/><path d="M232.88 416.89L236.59 414.83L236.59 418.96Z" fill="#c9960c"/><path d="M238.58 433.90L242.29 431.83L242.29 435.96Z" fill="#c9960c"/><path d="M244.29 450.90L248.00 448.83L248.00 452.96Z" fill="#c9960c"/><path d="M249.99 467.90L253.70 465.83L253.70 469.96Z" fill="#c9960c"/><path d="M255.69 484.90L259.41 482.84L259.41 486.96Z" fill="#c9960c"/><path d="M261.40 501.90L265.11 499.84L265.11 503.96Z" fill="#c9960c"/><path d="M267.10 518.90L270.81 516.84L270.81 520.96Z" fill="#c9960c"/><path d="M272.81 518.90L276.52 516.84L276.52 520.96Z" fill="#c9960c"/><path d="M278.51 518.90L282.22 516.84L282.22 520.96Z" fill="#c9960c"/><path d="M284.21 518.90L287.93 516.84L287.93 520.96Z" fill="#c9960c"/><path d="M289.92 518.90L293.63 516.84L293.63 520.96Z" fill="#c9960c"/><path d="M295.62 518.90L299.33 516.84L299.33 520.96Z" fill="#c9960c"/><path d="M301.33 518.90L305.04 516.84L305.04 520.96Z" fill="#c9960c"/><path d="M307.03 518.90L310.74 516.84L310.74 520.96Z" fill="#c9960c"/><path d="M312.73 518.90L316.45 516.84L316.45 520.96Z" fill="#c9960c"/><path d="M318.44 518.90L322.15 516.84L322.15 520.96Z" fill="#c9960c"/>
</g>
<rect x="35.30" y="289.30" width="285.20" height="229.60" fill="none" stroke="#222" stroke-width="1.25"/>
<path d="M35.30 518.90v-4.2M35.30 289.30v4.2M35.30 518.90h4.2M320.50 518.90h-4.2M63.82 518.90v-2.2M63.82 289.30v2.2M35.30 495.94h2.2M320.50 495.94h-2.2M92.34 518.90v-4.2M92.34 289.30v4.2M35.30 472.98h4.2M320.50 472.98h-4.2M120.86 518.90v-2.2M120.86 289.30v2.2M35.30 450.02h2.2M320.50 450.02h-2.2M149.38 518.90v-4.2M149.38 289.30v4.2M35.30 427.06h4.2M320.50 427.06h-4.2M177.90 518.90v-2.2M177.90 289.30v2.2M35.30 404.10h2.2M320.50 404.10h-2.2M206.42 518.90v-4.2M206.42 289.30v4.2M35.30 381.14h4.2M320.50 381.14h-4.2M234.94 518.90v-2.2M234.94 289.30v2.2M35.30 358.18h2.2M320.50 358.18h-2.2M263.46 518.90v-4.2M263.46 289.30v4.2M35.30 335.22h4.2M320.50 335.22h-4.2M291.98 518.90v-2.2M291.98 289.30v2.2M35.30 312.26h2.2M320.50 312.26h-2.2M320.50 518.90v-4.2M320.50 289.30v4.2M35.30 289.30h4.2M320.50 289.30h-4.2" stroke="#262626" stroke-width="1" fill="none"/>
<g font-family="'Liberation Serif', serif" font-weight="bold" font-size="9.5" fill="#111" stroke="#111" stroke-width="0.18">
<text x="35.30" y="531.60" text-anchor="middle">0.0</text>
<text x="30.00" y="521.70" text-anchor="end">0</text>
<text x="92.34" y="531.60" text-anchor="middle">0.2</text>
<text x="30.00" y="475.78" text-anchor="end">20</text>
<text x="149.38" y="531.60" text-anchor="middle">0.4</text>
<text x="30.00" y="429.86" text-anchor="end">40</text>
<text x="206.42" y="531.60" text-anchor="middle">0.6</text>
<text x="30.00" y="383.94" text-anchor="end">60</text>
<text x="263.46" y="531.60" text-anchor="middle">0.8</text>
<text x="30.00" y="338.02" text-anchor="end">80</text>
<text x="320.50" y="531.60" text-anchor="middle">1.0</text>
<text x="30.00" y="292.10" text-anchor="end">100</text>
</g>
<text x="184.50" y="550.50" text-anchor="middle" font-family="'Liberation Serif', serif" font-size="13.0" fill="#111">Phase fraction of reactants</text>
<text transform="translate(10.50 403.50) rotate(-90)" text-anchor="middle" font-family="'Liberation Serif', serif" font-size="12.9" fill="#111">Content/g</text>
<text x="36.10" y="299.60" font-family="'Liberation Serif', serif" font-weight="bold" font-size="13.7" fill="#141414">Mi:0.35</text>
<rect x="75.40" y="302.10" width="98" height="93" fill="#fff" stroke="#555" stroke-width="0.8"/>
<path d="M76.70 309.60h23.9" stroke="#3c3c3c" stroke-width="1.05"/>
<rect x="87.22" y="308.12" width="2.97" height="2.97" fill="#3c3c3c"/>
<text x="104.10" y="313.20" font-family="'Liberation Serif', serif" font-size="10.8" fill="#111">Slag#1</text>
<path d="M76.70 322.90h23.9" stroke="#e6323c" stroke-width="1.05"/>
<circle cx="88.70" cy="322.90" r="1.73" fill="#e6323c"/>
<text x="104.10" y="326.50" font-family="'Liberation Serif', serif" font-size="10.8" fill="#111">CaMg<tspan dy="2.6" font-size="7.1">2</tspan><tspan dy="-2.6">Al</tspan><tspan dy="2.6" font-size="7.1">16</tspan><tspan dy="-2.6">O</tspan><tspan dy="2.6" font-size="7.1">27</tspan></text>
<path d="M76.70 338.50h23.9" stroke="#1f74d2" stroke-width="1.05"/>
<path d="M88.70 336.44L90.76 340.15L86.64 340.15Z" fill="#1f74d2"/>
<text x="104.10" y="342.10" font-family="'Liberation Serif', serif" font-size="10.8" fill="#111">Ca<tspan dy="2.6" font-size="7.1">2</tspan><tspan dy="-2.6">Mg</tspan><tspan dy="2.6" font-size="7.1">2</tspan><tspan dy="-2.6">Al</tspan><tspan dy="2.6" font-size="7.1">28</tspan><tspan dy="-2.6">O</tspan><tspan dy="2.6" font-size="7.1">46</tspan></text>
<path d="M76.70 354.30h23.9" stroke="#1fa373" stroke-width="1.05"/>
<path d="M88.70 356.36L90.76 352.65L86.64 352.65Z" fill="#1fa373"/>
<text x="104.10" y="357.90" font-family="'Liberation Serif', serif" font-size="10.8" fill="#111">aC<tspan dy="2.6" font-size="7.1">2</tspan><tspan dy="-2.6">SB</tspan></text>
<path d="M76.70 369.90h23.9" stroke="#9a6bc9" stroke-width="1.05"/>
<path d="M88.70 367.84L90.76 369.90L88.70 371.96L86.64 369.90Z" fill="#9a6bc9"/>
<text x="104.10" y="373.50" font-family="'Liberation Serif', serif" font-size="10.8" fill="#111">CA<tspan dy="2.6" font-size="7.1">6</tspan></text>
<path d="M76.70 385.40h23.9" stroke="#c9960c" stroke-width="1.05"/>
<path d="M86.64 385.40L90.35 383.34L90.35 387.46Z" fill="#c9960c"/>
<text x="104.10" y="389.00" font-family="'Liberation Serif', serif" font-size="10.8" fill="#111">CA<tspan dy="2.6" font-size="7.1">2</tspan></text>
<clipPath id="c4"><rect x="394.40" y="289.10" width="283.50" height="228.20"/></clipPath>
<g clip-path="url(#c4)">
<path d="M394.70 346.35 L400.36 331.11 L406.02 315.65 L411.67 308.37 L417.33 300.87 L422.99 292.68 L424.89 289.50 L428.65 289.50 L434.31 289.50 L439.96 289.50 L445.62 289.50 L451.28 289.50 L456.94 289.50 L462.60 289.50 L468.25 289.50 L473.91 289.50 L479.57 289.50 L485.23 289.50 L490.89 289.50 L496.54 289.50 L502.20 289.50 L507.86 289.50 L513.52 289.50 L519.18 289.50 L524.83 289.50 L530.49 289.50 L537.20 289.50 L541.24 304.96 L547.10 326.11 L552.70 346.12 L558.78 365.00 L564.33 382.73 L570.10 399.56 L575.76 410.98 L582.38 424.35 L586.51 429.12 L591.51 434.58 L592.73 435.75 L598.39 441.16 L604.05 446.58 L606.00 448.45 L609.70 452.05 L615.36 457.55 L621.02 463.05 L627.53 469.37 L630.07 472.56 L632.34 481.88 L634.51 484.61 L637.99 487.22 L643.65 491.46 L649.31 495.70 L654.97 499.94 L660.63 504.18 L666.28 508.42 L671.94 512.66 L677.60 516.90" fill="none" stroke="#3c3c3c" stroke-width="0.95" stroke-linejoin="round"/>
<rect x="393.21" y="344.86" width="2.97" height="2.97" fill="#3c3c3c"/><rect x="398.87" y="329.63" width="2.97" height="2.97" fill="#3c3c3c"/><rect x="404.53" y="314.17" width="2.97" height="2.97" fill="#3c3c3c"/><rect x="410.19" y="306.89" width="2.97" height="2.97" fill="#3c3c3c"/><rect x="415.85" y="299.38" width="2.97" height="2.97" fill="#3c3c3c"/><rect x="421.50" y="291.20" width="2.97" height="2.97" fill="#3c3c3c"/><rect x="423.40" y="288.01" width="2.97" height="2.97" fill="#3c3c3c"/><rect x="427.16" y="288.01" width="2.97" height="2.97" fill="#3c3c3c"/><rect x="432.82" y="288.01" width="2.97" height="2.97" fill="#3c3c3c"/><rect x="438.48" y="288.01" width="2.97" height="2.97" fill="#3c3c3c"/><rect x="444.14" y="288.01" width="2.97" height="2.97" fill="#3c3c3c"/><rect x="449.79" y="288.01" width="2.97" height="2.97" fill="#3c3c3c"/><rect x="455.45" y="288.01" width="2.97" height="2.97" fill="#3c3c3c"/><rect x="461.11" y="288.01" width="2.97" height="2.97" fill="#3c3c3c"/><rect x="466.77" y="288.01" width="2.97" height="2.97" fill="#3c3c3c"/><rect x="472.43" y="288.01" width="2.97" height="2.97" fill="#3c3c3c"/><rect x="478.08" y="288.01" width="2.97" height="2.97" fill="#3c3c3c"/><rect x="483.74" y="288.01" width="2.97" height="2.97" fill="#3c3c3c"/><rect x="489.40" y="288.01" width="2.97" height="2.97" fill="#3c3c3c"/><rect x="495.06" y="288.01" width="2.97" height="2.97" fill="#3c3c3c"/><rect x="500.72" y="288.01" width="2.97" height="2.97" fill="#3c3c3c"/><rect x="506.38" y="288.01" width="2.97" height="2.97" fill="#3c3c3c"/><rect x="512.03" y="288.01" width="2.97" height="2.97" fill="#3c3c3c"/><rect x="517.69" y="288.01" width="2.97" height="2.97" fill="#3c3c3c"/><rect x="523.35" y="288.01" width="2.97" height="2.97" fill="#3c3c3c"/><rect x="529.01" y="288.01" width="2.97" height="2.97" fill="#3c3c3c"/><rect x="535.71" y="288.01" width="2.97" height="2.97" fill="#3c3c3c"/><rect x="539.76" y="303.48" width="2.97" height="2.97" fill="#3c3c3c"/><rect x="545.61" y="324.63" width="2.97" height="2.97" fill="#3c3c3c"/><rect x="551.21" y="344.64" width="2.97" height="2.97" fill="#3c3c3c"/><rect x="557.30" y="363.51" width="2.97" height="2.97" fill="#3c3c3c"/><rect x="562.84" y="381.25" width="2.97" height="2.97" fill="#3c3c3c"/><rect x="568.61" y="398.08" width="2.97" height="2.97" fill="#3c3c3c"/><rect x="574.27" y="409.50" width="2.97" height="2.97" fill="#3c3c3c"/><rect x="580.89" y="422.86" width="2.97" height="2.97" fill="#3c3c3c"/><rect x="585.02" y="427.64" width="2.97" height="2.97" fill="#3c3c3c"/><rect x="590.03" y="433.10" width="2.97" height="2.97" fill="#3c3c3c"/><rect x="591.25" y="434.26" width="2.97" height="2.97" fill="#3c3c3c"/><rect x="596.90" y="439.68" width="2.97" height="2.97" fill="#3c3c3c"/><rect x="602.56" y="445.10" width="2.97" height="2.97" fill="#3c3c3c"/><rect x="604.51" y="446.97" width="2.97" height="2.97" fill="#3c3c3c"/><rect x="608.22" y="450.57" width="2.97" height="2.97" fill="#3c3c3c"/><rect x="613.88" y="456.07" width="2.97" height="2.97" fill="#3c3c3c"/><rect x="619.53" y="461.57" width="2.97" height="2.97" fill="#3c3c3c"/><rect x="626.04" y="467.89" width="2.97" height="2.97" fill="#3c3c3c"/><rect x="628.59" y="471.07" width="2.97" height="2.97" fill="#3c3c3c"/><rect x="630.85" y="480.40" width="2.97" height="2.97" fill="#3c3c3c"/><rect x="633.03" y="483.12" width="2.97" height="2.97" fill="#3c3c3c"/><rect x="636.51" y="485.73" width="2.97" height="2.97" fill="#3c3c3c"/><rect x="642.17" y="489.97" width="2.97" height="2.97" fill="#3c3c3c"/><rect x="647.83" y="494.21" width="2.97" height="2.97" fill="#3c3c3c"/><rect x="653.48" y="498.45" width="2.97" height="2.97" fill="#3c3c3c"/><rect x="659.14" y="502.69" width="2.97" height="2.97" fill="#3c3c3c"/><rect x="664.80" y="506.93" width="2.97" height="2.97" fill="#3c3c3c"/><rect x="670.46" y="511.17" width="2.97" height="2.97" fill="#3c3c3c"/><rect x="676.12" y="515.41" width="2.97" height="2.97" fill="#3c3c3c"/>
<path d="M394.70 516.90 L400.36 516.90 L406.02 516.90 L411.67 516.90 L417.33 516.90 L422.99 516.90 L428.65 516.90 L434.31 516.90 L439.96 516.90 L445.62 516.90 L451.28 516.90 L456.94 516.90 L462.60 516.90 L468.25 516.90 L473.91 516.90 L479.57 516.90 L485.23 516.90 L490.89 516.90 L496.54 516.90 L502.20 516.90 L507.86 516.90 L513.52 516.90 L519.18 516.90 L524.83 516.90 L530.49 516.90 L536.15 516.90 L541.81 516.90 L547.47 516.90 L553.12 516.90 L558.78 516.90 L564.44 516.90 L569.25 516.90 L576.80 508.03 L582.38 502.12 L583.68 516.90 L587.07 516.90 L592.73 516.90 L598.39 516.90 L604.05 516.90 L609.70 516.90 L615.36 516.90 L621.02 516.90 L626.68 516.90 L632.34 516.90 L637.99 516.90 L643.65 516.90 L649.31 516.90 L654.97 516.90 L660.63 516.90 L666.28 516.90 L671.94 516.90 L677.60 516.90" fill="none" stroke="#e6323c" stroke-width="0.95" stroke-linejoin="round"/>
<circle cx="394.70" cy="516.90" r="1.73" fill="#e6323c"/><circle cx="400.36" cy="516.90" r="1.73" fill="#e6323c"/><circle cx="406.02" cy="516.90" r="1.73" fill="#e6323c"/><circle cx="411.67" cy="516.90" r="1.73" fill="#e6323c"/><circle cx="417.33" cy="516.90" r="1.73" fill="#e6323c"/><circle cx="422.99" cy="516.90" r="1.73" fill="#e6323c"/><circle cx="428.65" cy="516.90" r="1.73" fill="#e6323c"/><circle cx="434.31" cy="516.90" r="1.73" fill="#e6323c"/><circle cx="439.96" cy="516.90" r="1.73" fill="#e6323c"/><circle cx="445.62" cy="516.90" r="1.73" fill="#e6323c"/><circle cx="451.28" cy="516.90" r="1.73" fill="#e6323c"/><circle cx="456.94" cy="516.90" r="1.73" fill="#e6323c"/><circle cx="462.60" cy="516.90" r="1.73" fill="#e6323c"/><circle cx="468.25" cy="516.90" r="1.73" fill="#e6323c"/><circle cx="473.91" cy="516.90" r="1.73" fill="#e6323c"/><circle cx="479.57" cy="516.90" r="1.73" fill="#e6323c"/><circle cx="485.23" cy="516.90" r="1.73" fill="#e6323c"/><circle cx="490.89" cy="516.90" r="1.73" fill="#e6323c"/><circle cx="496.54" cy="516.90" r="1.73" fill="#e6323c"/><circle cx="502.20" cy="516.90" r="1.73" fill="#e6323c"/><circle cx="507.86" cy="516.90" r="1.73" fill="#e6323c"/><circle cx="513.52" cy="516.90" r="1.73" fill="#e6323c"/><circle cx="519.18" cy="516.90" r="1.73" fill="#e6323c"/><circle cx="524.83" cy="516.90" r="1.73" fill="#e6323c"/><circle cx="530.49" cy="516.90" r="1.73" fill="#e6323c"/><circle cx="536.15" cy="516.90" r="1.73" fill="#e6323c"/><circle cx="541.81" cy="516.90" r="1.73" fill="#e6323c"/><circle cx="547.47" cy="516.90" r="1.73" fill="#e6323c"/><circle cx="553.12" cy="516.90" r="1.73" fill="#e6323c"/><circle cx="558.78" cy="516.90" r="1.73" fill="#e6323c"/><circle cx="564.44" cy="516.90" r="1.73" fill="#e6323c"/><circle cx="569.25" cy="516.90" r="1.73" fill="#e6323c"/><circle cx="576.80" cy="508.03" r="1.73" fill="#e6323c"/><circle cx="582.38" cy="502.12" r="1.73" fill="#e6323c"/><circle cx="583.68" cy="516.90" r="1.73" fill="#e6323c"/><circle cx="587.07" cy="516.90" r="1.73" fill="#e6323c"/><circle cx="592.73" cy="516.90" r="1.73" fill="#e6323c"/><circle cx="598.39" cy="516.90" r="1.73" fill="#e6323c"/><circle cx="604.05" cy="516.90" r="1.73" fill="#e6323c"/><circle cx="609.70" cy="516.90" r="1.73" fill="#e6323c"/><circle cx="615.36" cy="516.90" r="1.73" fill="#e6323c"/><circle cx="621.02" cy="516.90" r="1.73" fill="#e6323c"/><circle cx="626.68" cy="516.90" r="1.73" fill="#e6323c"/><circle cx="632.34" cy="516.90" r="1.73" fill="#e6323c"/><circle cx="637.99" cy="516.90" r="1.73" fill="#e6323c"/><circle cx="643.65" cy="516.90" r="1.73" fill="#e6323c"/><circle cx="649.31" cy="516.90" r="1.73" fill="#e6323c"/><circle cx="654.97" cy="516.90" r="1.73" fill="#e6323c"/><circle cx="660.63" cy="516.90" r="1.73" fill="#e6323c"/><circle cx="666.28" cy="516.90" r="1.73" fill="#e6323c"/><circle cx="671.94" cy="516.90" r="1.73" fill="#e6323c"/><circle cx="677.60" cy="516.90" r="1.73" fill="#e6323c"/>
<path d="M394.70 516.90 L400.36 516.90 L406.02 516.90 L411.67 516.90 L417.33 516.90 L422.99 516.90 L428.65 516.90 L434.31 516.90 L439.96 516.90 L445.62 516.90 L451.28 516.90 L456.94 516.90 L462.60 516.90 L468.25 516.90 L473.91 516.90 L479.57 516.90 L485.23 516.90 L490.89 516.90 L496.54 516.90 L502.20 516.90 L507.86 516.90 L513.52 516.90 L519.18 516.90 L524.83 516.90 L530.49 516.90 L536.15 516.90 L541.81 516.90 L547.47 516.90 L553.12 516.90 L558.78 516.90 L564.44 516.90 L570.10 516.90 L575.76 516.90 L581.41 516.90 L583.68 516.90 L585.20 491.43 L587.07 488.80 L590.69 483.70 L592.73 484.48 L598.39 486.64 L604.05 488.80 L609.70 490.96 L615.36 493.12 L621.02 495.29 L626.68 497.45 L632.34 499.61 L637.99 501.77 L643.65 503.93 L649.31 506.09 L654.97 508.25 L660.63 510.42 L666.28 512.58 L671.94 514.74 L677.60 516.90" fill="none" stroke="#1f74d2" stroke-width="0.95" stroke-linejoin="round"/>
<path d="M394.70 514.84L396.76 518.55L392.64 518.55Z" fill="#1f74d2"/><path d="M400.36 514.84L402.42 518.55L398.30 518.55Z" fill="#1f74d2"/><path d="M406.02 514.84L408.08 518.55L403.95 518.55Z" fill="#1f74d2"/><path d="M411.67 514.84L413.74 518.55L409.61 518.55Z" fill="#1f74d2"/><path d="M417.33 514.84L419.39 518.55L415.27 518.55Z" fill="#1f74d2"/><path d="M422.99 514.84L425.05 518.55L420.93 518.55Z" fill="#1f74d2"/><path d="M428.65 514.84L430.71 518.55L426.59 518.55Z" fill="#1f74d2"/><path d="M434.31 514.84L436.37 518.55L432.24 518.55Z" fill="#1f74d2"/><path d="M439.96 514.84L442.03 518.55L437.90 518.55Z" fill="#1f74d2"/><path d="M445.62 514.84L447.68 518.55L443.56 518.55Z" fill="#1f74d2"/><path d="M451.28 514.84L453.34 518.55L449.22 518.55Z" fill="#1f74d2"/><path d="M456.94 514.84L459.00 518.55L454.88 518.55Z" fill="#1f74d2"/><path d="M462.60 514.84L464.66 518.55L460.53 518.55Z" fill="#1f74d2"/><path d="M468.25 514.84L470.32 518.55L466.19 518.55Z" fill="#1f74d2"/><path d="M473.91 514.84L475.97 518.55L471.85 518.55Z" fill="#1f74d2"/><path d="M479.57 514.84L481.63 518.55L477.51 518.55Z" fill="#1f74d2"/><path d="M485.23 514.84L487.29 518.55L483.17 518.55Z" fill="#1f74d2"/><path d="M490.89 514.84L492.95 518.55L488.82 518.55Z" fill="#1f74d2"/><path d="M496.54 514.84L498.61 518.55L494.48 518.55Z" fill="#1f74d2"/><path d="M502.20 514.84L504.26 518.55L500.14 518.55Z" fill="#1f74d2"/><path d="M507.86 514.84L509.92 518.55L505.80 518.55Z" fill="#1f74d2"/><path d="M513.52 514.84L515.58 518.55L511.46 518.55Z" fill="#1f74d2"/><path d="M519.18 514.84L521.24 518.55L517.11 518.55Z" fill="#1f74d2"/><path d="M524.83 514.84L526.90 518.55L522.77 518.55Z" fill="#1f74d2"/><path d="M530.49 514.84L532.55 518.55L528.43 518.55Z" fill="#1f74d2"/><path d="M536.15 514.84L538.21 518.55L534.09 518.55Z" fill="#1f74d2"/><path d="M541.81 514.84L543.87 518.55L539.75 518.55Z" fill="#1f74d2"/><path d="M547.47 514.84L549.53 518.55L545.40 518.55Z" fill="#1f74d2"/><path d="M553.12 514.84L555.19 518.55L551.06 518.55Z" fill="#1f74d2"/><path d="M558.78 514.84L560.84 518.55L556.72 518.55Z" fill="#1f74d2"/><path d="M564.44 514.84L566.50 518.55L562.38 518.55Z" fill="#1f74d2"/><path d="M570.10 514.84L572.16 518.55L568.04 518.55Z" fill="#1f74d2"/><path d="M575.76 514.84L577.82 518.55L573.69 518.55Z" fill="#1f74d2"/><path d="M581.41 514.84L583.48 518.55L579.35 518.55Z" fill="#1f74d2"/><path d="M583.68 514.84L585.74 518.55L581.61 518.55Z" fill="#1f74d2"/><path d="M585.20 489.37L587.27 493.08L583.14 493.08Z" fill="#1f74d2"/><path d="M587.07 486.74L589.13 490.45L585.01 490.45Z" fill="#1f74d2"/><path d="M590.69 481.64L592.76 485.35L588.63 485.35Z" fill="#1f74d2"/><path d="M592.73 482.42L594.79 486.13L590.67 486.13Z" fill="#1f74d2"/><path d="M598.39 484.58L600.45 488.29L596.33 488.29Z" fill="#1f74d2"/><path d="M604.05 486.74L606.11 490.45L601.98 490.45Z" fill="#1f74d2"/><path d="M609.70 488.90L611.77 492.61L607.64 492.61Z" fill="#1f74d2"/><path d="M615.36 491.06L617.42 494.77L613.30 494.77Z" fill="#1f74d2"/><path d="M621.02 493.22L623.08 496.94L618.96 496.94Z" fill="#1f74d2"/><path d="M626.68 495.38L628.74 499.10L624.62 499.10Z" fill="#1f74d2"/><path d="M632.34 497.55L634.40 501.26L630.27 501.26Z" fill="#1f74d2"/><path d="M637.99 499.71L640.06 503.42L635.93 503.42Z" fill="#1f74d2"/><path d="M643.65 501.87L645.71 505.58L641.59 505.58Z" fill="#1f74d2"/><path d="M649.31 504.03L651.37 507.74L647.25 507.74Z" fill="#1f74d2"/><path d="M654.97 506.19L657.03 509.90L652.91 509.90Z" fill="#1f74d2"/><path d="M660.63 508.35L662.69 512.07L658.56 512.07Z" fill="#1f74d2"/><path d="M666.28 510.51L668.35 514.23L664.22 514.23Z" fill="#1f74d2"/><path d="M671.94 512.68L674.00 516.39L669.88 516.39Z" fill="#1f74d2"/><path d="M677.60 514.84L679.66 518.55L675.54 518.55Z" fill="#1f74d2"/>
<path d="M394.70 499.39 L400.36 509.17 L405.17 516.90 L411.67 516.90 L417.33 516.90 L422.99 516.90 L428.65 516.90 L434.31 516.90 L439.96 516.90 L445.62 516.90 L451.28 516.90 L456.94 516.90 L462.60 516.90 L468.25 516.90 L473.91 516.90 L479.57 516.90 L485.23 516.90 L490.89 516.90 L496.54 516.90 L502.20 516.90 L507.86 516.90 L513.52 516.90 L519.18 516.90 L524.83 516.90 L530.49 516.90 L536.15 516.90 L541.81 516.90 L547.47 516.90 L553.12 516.90 L558.78 516.90 L564.44 516.90 L570.10 516.90 L575.76 516.90 L581.41 516.90 L587.07 516.90 L592.73 516.90 L598.39 516.90 L604.05 516.90 L609.70 516.90 L615.36 516.90 L621.02 516.90 L626.68 516.90 L632.34 516.90 L637.99 516.90 L643.65 516.90 L649.31 516.90 L654.97 516.90 L660.63 516.90 L666.28 516.90 L671.94 516.90 L677.60 516.90" fill="none" stroke="#1fa373" stroke-width="0.95" stroke-linejoin="round"/>
<path d="M394.70 501.45L396.76 497.74L392.64 497.74Z" fill="#1fa373"/><path d="M400.36 511.23L402.42 507.52L398.30 507.52Z" fill="#1fa373"/><path d="M405.17 518.96L407.23 515.25L403.10 515.25Z" fill="#1fa373"/><path d="M411.67 518.96L413.74 515.25L409.61 515.25Z" fill="#1fa373"/><path d="M417.33 518.96L419.39 515.25L415.27 515.25Z" fill="#1fa373"/><path d="M422.99 518.96L425.05 515.25L420.93 515.25Z" fill="#1fa373"/><path d="M428.65 518.96L430.71 515.25L426.59 515.25Z" fill="#1fa373"/><path d="M434.31 518.96L436.37 515.25L432.24 515.25Z" fill="#1fa373"/><path d="M439.96 518.96L442.03 515.25L437.90 515.25Z" fill="#1fa373"/><path d="M445.62 518.96L447.68 515.25L443.56 515.25Z" fill="#1fa373"/><path d="M451.28 518.96L453.34 515.25L449.22 515.25Z" fill="#1fa373"/><path d="M456.94 518.96L459.00 515.25L454.88 515.25Z" fill="#1fa373"/><path d="M462.60 518.96L464.66 515.25L460.53 515.25Z" fill="#1fa373"/><path d="M468.25 518.96L470.32 515.25L466.19 515.25Z" fill="#1fa373"/><path d="M473.91 518.96L475.97 515.25L471.85 515.25Z" fill="#1fa373"/><path d="M479.57 518.96L481.63 515.25L477.51 515.25Z" fill="#1fa373"/><path d="M485.23 518.96L487.29 515.25L483.17 515.25Z" fill="#1fa373"/><path d="M490.89 518.96L492.95 515.25L488.82 515.25Z" fill="#1fa373"/><path d="M496.54 518.96L498.61 515.25L494.48 515.25Z" fill="#1fa373"/><path d="M502.20 518.96L504.26 515.25L500.14 515.25Z" fill="#1fa373"/><path d="M507.86 518.96L509.92 515.25L505.80 515.25Z" fill="#1fa373"/><path d="M513.52 518.96L515.58 515.25L511.46 515.25Z" fill="#1fa373"/><path d="M519.18 518.96L521.24 515.25L517.11 515.25Z" fill="#1fa373"/><path d="M524.83 518.96L526.90 515.25L522.77 515.25Z" fill="#1fa373"/><path d="M530.49 518.96L532.55 515.25L528.43 515.25Z" fill="#1fa373"/><path d="M536.15 518.96L538.21 515.25L534.09 515.25Z" fill="#1fa373"/><path d="M541.81 518.96L543.87 515.25L539.75 515.25Z" fill="#1fa373"/><path d="M547.47 518.96L549.53 515.25L545.40 515.25Z" fill="#1fa373"/><path d="M553.12 518.96L555.19 515.25L551.06 515.25Z" fill="#1fa373"/><path d="M558.78 518.96L560.84 515.25L556.72 515.25Z" fill="#1fa373"/><path d="M564.44 518.96L566.50 515.25L562.38 515.25Z" fill="#1fa373"/><path d="M570.10 518.96L572.16 515.25L568.04 515.25Z" fill="#1fa373"/><path d="M575.76 518.96L577.82 515.25L573.69 515.25Z" fill="#1fa373"/><path d="M581.41 518.96L583.48 515.25L579.35 515.25Z" fill="#1fa373"/><path d="M587.07 518.96L589.13 515.25L585.01 515.25Z" fill="#1fa373"/><path d="M592.73 518.96L594.79 515.25L590.67 515.25Z" fill="#1fa373"/><path d="M598.39 518.96L600.45 515.25L596.33 515.25Z" fill="#1fa373"/><path d="M604.05 518.96L606.11 515.25L601.98 515.25Z" fill="#1fa373"/><path d="M609.70 518.96L611.77 515.25L607.64 515.25Z" fill="#1fa373"/><path d="M615.36 518.96L617.42 515.25L613.30 515.25Z" fill="#1fa373"/><path d="M621.02 518.96L623.08 515.25L618.96 515.25Z" fill="#1fa373"/><path d="M626.68 518.96L628.74 515.25L624.62 515.25Z" fill="#1fa373"/><path d="M632.34 518.96L634.40 515.25L630.27 515.25Z" fill="#1fa373"/><path d="M637.99 518.96L640.06 515.25L635.93 515.25Z" fill="#1fa373"/><path d="M643.65 518.96L645.71 515.25L641.59 515.25Z" fill="#1fa373"/><path d="M649.31 518.96L651.37 515.25L647.25 515.25Z" fill="#1fa373"/><path d="M654.97 518.96L657.03 515.25L652.91 515.25Z" fill="#1fa373"/><path d="M660.63 518.96L662.69 515.25L658.56 515.25Z" fill="#1fa373"/><path d="M666.28 518.96L668.35 515.25L664.22 515.25Z" fill="#1fa373"/><path d="M671.94 518.96L674.00 515.25L669.88 515.25Z" fill="#1fa373"/><path d="M677.60 518.96L679.66 515.25L675.54 515.25Z" fill="#1fa373"/>
<path d="M394.70 516.90 L400.36 516.90 L406.02 516.90 L411.67 516.90 L417.33 516.90 L422.99 516.90 L428.65 516.90 L434.31 516.90 L439.96 516.90 L445.62 516.90 L451.28 516.90 L456.94 516.90 L462.60 516.90 L468.25 516.90 L473.91 516.90 L479.57 516.90 L485.23 516.90 L490.89 516.90 L496.54 516.90 L502.20 516.90 L507.86 516.90 L513.52 516.90 L519.18 516.90 L524.83 516.90 L530.49 516.90 L536.15 516.90 L541.81 516.90 L547.47 516.90 L553.12 516.90 L558.78 516.90 L564.44 516.90 L570.10 516.90 L575.76 516.90 L581.41 516.90 L587.07 516.90 L590.69 516.90 L592.73 508.23 L598.39 484.13 L604.05 460.03 L609.70 435.94 L615.36 411.84 L621.02 387.75 L626.68 363.65 L628.66 355.22 L632.34 344.81 L634.20 339.53 L637.99 355.02 L643.65 378.15 L649.31 401.27 L654.97 424.40 L660.63 447.52 L666.28 470.65 L671.94 493.77 L677.60 516.90" fill="none" stroke="#9a6bc9" stroke-width="0.95" stroke-linejoin="round"/>
<path d="M394.70 514.84L396.76 516.90L394.70 518.96L392.64 516.90Z" fill="#9a6bc9"/><path d="M400.36 514.84L402.42 516.90L400.36 518.96L398.30 516.90Z" fill="#9a6bc9"/><path d="M406.02 514.84L408.08 516.90L406.02 518.96L403.95 516.90Z" fill="#9a6bc9"/><path d="M411.67 514.84L413.74 516.90L411.67 518.96L409.61 516.90Z" fill="#9a6bc9"/><path d="M417.33 514.84L419.39 516.90L417.33 518.96L415.27 516.90Z" fill="#9a6bc9"/><path d="M422.99 514.84L425.05 516.90L422.99 518.96L420.93 516.90Z" fill="#9a6bc9"/><path d="M428.65 514.84L430.71 516.90L428.65 518.96L426.59 516.90Z" fill="#9a6bc9"/><path d="M434.31 514.84L436.37 516.90L434.31 518.96L432.24 516.90Z" fill="#9a6bc9"/><path d="M439.96 514.84L442.03 516.90L439.96 518.96L437.90 516.90Z" fill="#9a6bc9"/><path d="M445.62 514.84L447.68 516.90L445.62 518.96L443.56 516.90Z" fill="#9a6bc9"/><path d="M451.28 514.84L453.34 516.90L451.28 518.96L449.22 516.90Z" fill="#9a6bc9"/><path d="M456.94 514.84L459.00 516.90L456.94 518.96L454.88 516.90Z" fill="#9a6bc9"/><path d="M462.60 514.84L464.66 516.90L462.60 518.96L460.53 516.90Z" fill="#9a6bc9"/><path d="M468.25 514.84L470.32 516.90L468.25 518.96L466.19 516.90Z" fill="#9a6bc9"/><path d="M473.91 514.84L475.97 516.90L473.91 518.96L471.85 516.90Z" fill="#9a6bc9"/><path d="M479.57 514.84L481.63 516.90L479.57 518.96L477.51 516.90Z" fill="#9a6bc9"/><path d="M485.23 514.84L487.29 516.90L485.23 518.96L483.17 516.90Z" fill="#9a6bc9"/><path d="M490.89 514.84L492.95 516.90L490.89 518.96L488.82 516.90Z" fill="#9a6bc9"/><path d="M496.54 514.84L498.61 516.90L496.54 518.96L494.48 516.90Z" fill="#9a6bc9"/><path d="M502.20 514.84L504.26 516.90L502.20 518.96L500.14 516.90Z" fill="#9a6bc9"/><path d="M507.86 514.84L509.92 516.90L507.86 518.96L505.80 516.90Z" fill="#9a6bc9"/><path d="M513.52 514.84L515.58 516.90L513.52 518.96L511.46 516.90Z" fill="#9a6bc9"/><path d="M519.18 514.84L521.24 516.90L519.18 518.96L517.11 516.90Z" fill="#9a6bc9"/><path d="M524.83 514.84L526.90 516.90L524.83 518.96L522.77 516.90Z" fill="#9a6bc9"/><path d="M530.49 514.84L532.55 516.90L530.49 518.96L528.43 516.90Z" fill="#9a6bc9"/><path d="M536.15 514.84L538.21 516.90L536.15 518.96L534.09 516.90Z" fill="#9a6bc9"/><path d="M541.81 514.84L543.87 516.90L541.81 518.96L539.75 516.90Z" fill="#9a6bc9"/><path d="M547.47 514.84L549.53 516.90L547.47 518.96L545.40 516.90Z" fill="#9a6bc9"/><path d="M553.12 514.84L555.19 516.90L553.12 518.96L551.06 516.90Z" fill="#9a6bc9"/><path d="M558.78 514.84L560.84 516.90L558.78 518.96L556.72 516.90Z" fill="#9a6bc9"/><path d="M564.44 514.84L566.50 516.90L564.44 518.96L562.38 516.90Z" fill="#9a6bc9"/><path d="M570.10 514.84L572.16 516.90L570.10 518.96L568.04 516.90Z" fill="#9a6bc9"/><path d="M575.76 514.84L577.82 516.90L575.76 518.96L573.69 516.90Z" fill="#9a6bc9"/><path d="M581.41 514.84L583.48 516.90L581.41 518.96L579.35 516.90Z" fill="#9a6bc9"/><path d="M587.07 514.84L589.13 516.90L587.07 518.96L585.01 516.90Z" fill="#9a6bc9"/><path d="M590.69 514.84L592.76 516.90L590.69 518.96L588.63 516.90Z" fill="#9a6bc9"/><path d="M592.73 506.16L594.79 508.23L592.73 510.29L590.67 508.23Z" fill="#9a6bc9"/><path d="M598.39 482.07L600.45 484.13L598.39 486.19L596.33 484.13Z" fill="#9a6bc9"/><path d="M604.05 457.97L606.11 460.03L604.05 462.10L601.98 460.03Z" fill="#9a6bc9"/><path d="M609.70 433.88L611.77 435.94L609.70 438.00L607.64 435.94Z" fill="#9a6bc9"/><path d="M615.36 409.78L617.42 411.84L615.36 413.91L613.30 411.84Z" fill="#9a6bc9"/><path d="M621.02 385.69L623.08 387.75L621.02 389.81L618.96 387.75Z" fill="#9a6bc9"/><path d="M626.68 361.59L628.74 363.65L626.68 365.71L624.62 363.65Z" fill="#9a6bc9"/><path d="M628.66 353.16L630.72 355.22L628.66 357.28L626.60 355.22Z" fill="#9a6bc9"/><path d="M632.34 342.75L634.40 344.81L632.34 346.87L630.27 344.81Z" fill="#9a6bc9"/><path d="M634.20 337.47L636.27 339.53L634.20 341.59L632.14 339.53Z" fill="#9a6bc9"/><path d="M637.99 352.96L640.06 355.02L637.99 357.08L635.93 355.02Z" fill="#9a6bc9"/><path d="M643.65 376.08L645.71 378.15L643.65 380.21L641.59 378.15Z" fill="#9a6bc9"/><path d="M649.31 399.21L651.37 401.27L649.31 403.34L647.25 401.27Z" fill="#9a6bc9"/><path d="M654.97 422.34L657.03 424.40L654.97 426.46L652.91 424.40Z" fill="#9a6bc9"/><path d="M660.63 445.46L662.69 447.52L660.63 449.59L658.56 447.52Z" fill="#9a6bc9"/><path d="M666.28 468.59L668.35 470.65L666.28 472.71L664.22 470.65Z" fill="#9a6bc9"/><path d="M671.94 491.71L674.00 493.77L671.94 495.84L669.88 493.77Z" fill="#9a6bc9"/><path d="M677.60 514.84L679.66 516.90L677.60 518.96L675.54 516.90Z" fill="#9a6bc9"/>
<path d="M394.70 516.90 L400.36 516.90 L406.02 516.90 L411.67 516.90 L417.33 516.90 L422.99 516.90 L428.65 516.90 L434.31 516.90 L439.96 516.90 L445.62 516.90 L451.28 516.90 L456.94 516.90 L462.60 516.90 L468.25 516.90 L473.91 516.90 L479.57 516.90 L485.23 516.90 L490.89 516.90 L496.54 516.90 L502.20 516.90 L507.86 516.90 L513.52 516.90 L519.18 516.90 L524.83 516.90 L530.49 516.90 L537.20 516.90 L541.81 501.47 L547.47 482.54 L553.12 463.60 L558.78 444.67 L564.44 425.73 L569.82 407.75 L575.76 402.36 L581.41 397.23 L583.11 395.70 L585.94 403.65 L587.07 403.93 L591.51 405.02 L592.73 408.80 L598.39 426.38 L604.05 443.95 L609.70 461.53 L615.36 479.11 L621.02 496.69 L627.53 516.90 L632.34 516.90 L637.99 516.90 L643.65 516.90 L649.31 516.90 L654.97 516.90 L660.63 516.90 L666.28 516.90 L671.94 516.90 L677.60 516.90" fill="none" stroke="#c9960c" stroke-width="0.95" stroke-linejoin="round"/>
<path d="M392.64 516.90L396.35 514.84L396.35 518.96Z" fill="#c9960c"/><path d="M398.30 516.90L402.01 514.84L402.01 518.96Z" fill="#c9960c"/><path d="M403.95 516.90L407.67 514.84L407.67 518.96Z" fill="#c9960c"/><path d="M409.61 516.90L413.32 514.84L413.32 518.96Z" fill="#c9960c"/><path d="M415.27 516.90L418.98 514.84L418.98 518.96Z" fill="#c9960c"/><path d="M420.93 516.90L424.64 514.84L424.64 518.96Z" fill="#c9960c"/><path d="M426.59 516.90L430.30 514.84L430.30 518.96Z" fill="#c9960c"/><path d="M432.24 516.90L435.96 514.84L435.96 518.96Z" fill="#c9960c"/><path d="M437.90 516.90L441.61 514.84L441.61 518.96Z" fill="#c9960c"/><path d="M443.56 516.90L447.27 514.84L447.27 518.96Z" fill="#c9960c"/><path d="M449.22 516.90L452.93 514.84L452.93 518.96Z" fill="#c9960c"/><path d="M454.88 516.90L458.59 514.84L458.59 518.96Z" fill="#c9960c"/><path d="M460.53 516.90L464.25 514.84L464.25 518.96Z" fill="#c9960c"/><path d="M466.19 516.90L469.90 514.84L469.90 518.96Z" fill="#c9960c"/><path d="M471.85 516.90L475.56 514.84L475.56 518.96Z" fill="#c9960c"/><path d="M477.51 516.90L481.22 514.84L481.22 518.96Z" fill="#c9960c"/><path d="M483.17 516.90L486.88 514.84L486.88 518.96Z" fill="#c9960c"/><path d="M488.82 516.90L492.54 514.84L492.54 518.96Z" fill="#c9960c"/><path d="M494.48 516.90L498.19 514.84L498.19 518.96Z" fill="#c9960c"/><path d="M500.14 516.90L503.85 514.84L503.85 518.96Z" fill="#c9960c"/><path d="M505.80 516.90L509.51 514.84L509.51 518.96Z" fill="#c9960c"/><path d="M511.46 516.90L515.17 514.84L515.17 518.96Z" fill="#c9960c"/><path d="M517.11 516.90L520.83 514.84L520.83 518.96Z" fill="#c9960c"/><path d="M522.77 516.90L526.48 514.84L526.48 518.96Z" fill="#c9960c"/><path d="M528.43 516.90L532.14 514.84L532.14 518.96Z" fill="#c9960c"/><path d="M535.13 516.90L538.85 514.84L538.85 518.96Z" fill="#c9960c"/><path d="M539.75 501.47L543.46 499.41L543.46 503.53Z" fill="#c9960c"/><path d="M545.40 482.54L549.12 480.47L549.12 484.60Z" fill="#c9960c"/><path d="M551.06 463.60L554.77 461.54L554.77 465.66Z" fill="#c9960c"/><path d="M556.72 444.67L560.43 442.61L560.43 446.73Z" fill="#c9960c"/><path d="M562.38 425.73L566.09 423.67L566.09 427.80Z" fill="#c9960c"/><path d="M567.75 407.75L571.47 405.69L571.47 409.81Z" fill="#c9960c"/><path d="M573.69 402.36L577.41 400.30L577.41 404.43Z" fill="#c9960c"/><path d="M579.35 397.23L583.06 395.17L583.06 399.30Z" fill="#c9960c"/><path d="M581.05 395.70L584.76 393.63L584.76 397.76Z" fill="#c9960c"/><path d="M583.88 403.65L587.59 401.59L587.59 405.72Z" fill="#c9960c"/><path d="M585.01 403.93L588.72 401.87L588.72 405.99Z" fill="#c9960c"/><path d="M589.45 405.02L593.16 402.96L593.16 407.08Z" fill="#c9960c"/><path d="M590.67 408.80L594.38 406.74L594.38 410.86Z" fill="#c9960c"/><path d="M596.33 426.38L600.04 424.31L600.04 428.44Z" fill="#c9960c"/><path d="M601.98 443.95L605.70 441.89L605.70 446.02Z" fill="#c9960c"/><path d="M607.64 461.53L611.35 459.47L611.35 463.59Z" fill="#c9960c"/><path d="M613.30 479.11L617.01 477.05L617.01 481.17Z" fill="#c9960c"/><path d="M618.96 496.69L622.67 494.62L622.67 498.75Z" fill="#c9960c"/><path d="M625.46 516.90L629.18 514.84L629.18 518.96Z" fill="#c9960c"/><path d="M630.27 516.90L633.99 514.84L633.99 518.96Z" fill="#c9960c"/><path d="M635.93 516.90L639.64 514.84L639.64 518.96Z" fill="#c9960c"/><path d="M641.59 516.90L645.30 514.84L645.30 518.96Z" fill="#c9960c"/><path d="M647.25 516.90L650.96 514.84L650.96 518.96Z" fill="#c9960c"/><path d="M652.91 516.90L656.62 514.84L656.62 518.96Z" fill="#c9960c"/><path d="M658.56 516.90L662.28 514.84L662.28 518.96Z" fill="#c9960c"/><path d="M664.22 516.90L667.93 514.84L667.93 518.96Z" fill="#c9960c"/><path d="M669.88 516.90L673.59 514.84L673.59 518.96Z" fill="#c9960c"/><path d="M675.54 516.90L679.25 514.84L679.25 518.96Z" fill="#c9960c"/>
</g>
<rect x="394.70" y="289.50" width="282.90" height="227.40" fill="none" stroke="#222" stroke-width="1.25"/>
<path d="M394.70 516.90v-4.2M394.70 289.50v4.2M394.70 516.90h4.2M677.60 516.90h-4.2M422.99 516.90v-2.2M422.99 289.50v2.2M394.70 494.16h2.2M677.60 494.16h-2.2M451.28 516.90v-4.2M451.28 289.50v4.2M394.70 471.42h4.2M677.60 471.42h-4.2M479.57 516.90v-2.2M479.57 289.50v2.2M394.70 448.68h2.2M677.60 448.68h-2.2M507.86 516.90v-4.2M507.86 289.50v4.2M394.70 425.94h4.2M677.60 425.94h-4.2M536.15 516.90v-2.2M536.15 289.50v2.2M394.70 403.20h2.2M677.60 403.20h-2.2M564.44 516.90v-4.2M564.44 289.50v4.2M394.70 380.46h4.2M677.60 380.46h-4.2M592.73 516.90v-2.2M592.73 289.50v2.2M394.70 357.72h2.2M677.60 357.72h-2.2M621.02 516.90v-4.2M621.02 289.50v4.2M394.70 334.98h4.2M677.60 334.98h-4.2M649.31 516.90v-2.2M649.31 289.50v2.2M394.70 312.24h2.2M677.60 312.24h-2.2M677.60 516.90v-4.2M677.60 289.50v4.2M394.70 289.50h4.2M677.60 289.50h-4.2" stroke="#262626" stroke-width="1" fill="none"/>
<g font-family="'Liberation Serif', serif" font-weight="bold" font-size="9.5" fill="#111" stroke="#111" stroke-width="0.18">
<text x="394.70" y="529.60" text-anchor="middle">0.0</text>
<text x="389.40" y="519.70" text-anchor="end">0</text>
<text x="451.28" y="529.60" text-anchor="middle">0.2</text>
<text x="389.40" y="474.22" text-anchor="end">20</text>
<text x="507.86" y="529.60" text-anchor="middle">0.4</text>
<text x="389.40" y="428.74" text-anchor="end">40</text>
<text x="564.44" y="529.60" text-anchor="middle">0.6</text>
<text x="389.40" y="383.26" text-anchor="end">60</text>
<text x="621.02" y="529.60" text-anchor="middle">0.8</text>
<text x="389.40" y="337.78" text-anchor="end">80</text>
<text x="677.60" y="529.60" text-anchor="middle">1.0</text>
<text x="389.40" y="292.30" text-anchor="end">100</text>
</g>
<text x="539.20" y="550.50" text-anchor="middle" font-family="'Liberation Serif', serif" font-size="13.0" fill="#111">Phase fraction of reactants</text>
<text transform="translate(367.10 402.10) rotate(-90)" text-anchor="middle" font-family="'Liberation Serif', serif" font-size="12.9" fill="#111">Content/g</text>
<text x="397.10" y="303.00" font-family="'Liberation Serif', serif" font-weight="bold" font-size="13.9" fill="#141414">Mi:0.45</text>
<rect x="431.40" y="306.40" width="98" height="93" fill="#fff" stroke="#555" stroke-width="0.8"/>
<path d="M432.70 313.90h23.9" stroke="#3c3c3c" stroke-width="1.05"/>
<rect x="443.21" y="312.41" width="2.97" height="2.97" fill="#3c3c3c"/>
<text x="460.10" y="317.50" font-family="'Liberation Serif', serif" font-size="10.8" fill="#111">Slag#1</text>
<path d="M432.70 327.20h23.9" stroke="#e6323c" stroke-width="1.05"/>
<circle cx="444.70" cy="327.20" r="1.73" fill="#e6323c"/>
<text x="460.10" y="330.80" font-family="'Liberation Serif', serif" font-size="10.8" fill="#111">CaMg<tspan dy="2.6" font-size="7.1">2</tspan><tspan dy="-2.6">Al</tspan><tspan dy="2.6" font-size="7.1">16</tspan><tspan dy="-2.6">O</tspan><tspan dy="2.6" font-size="7.1">27</tspan></text>
<path d="M432.70 342.80h23.9" stroke="#1f74d2" stroke-width="1.05"/>
<path d="M444.70 340.74L446.76 344.45L442.64 344.45Z" fill="#1f74d2"/>
<text x="460.10" y="346.40" font-family="'Liberation Serif', serif" font-size="10.8" fill="#111">Ca<tspan dy="2.6" font-size="7.1">2</tspan><tspan dy="-2.6">Mg</tspan><tspan dy="2.6" font-size="7.1">2</tspan><tspan dy="-2.6">Al</tspan><tspan dy="2.6" font-size="7.1">28</tspan><tspan dy="-2.6">O</tspan><tspan dy="2.6" font-size="7.1">46</tspan></text>
<path d="M432.70 358.60h23.9" stroke="#1fa373" stroke-width="1.05"/>
<path d="M444.70 360.66L446.76 356.95L442.64 356.95Z" fill="#1fa373"/>
<text x="460.10" y="362.20" font-family="'Liberation Serif', serif" font-size="10.8" fill="#111">aC<tspan dy="2.6" font-size="7.1">2</tspan><tspan dy="-2.6">SB</tspan></text>
<path d="M432.70 374.20h23.9" stroke="#9a6bc9" stroke-width="1.05"/>
<path d="M444.70 372.14L446.76 374.20L444.70 376.26L442.64 374.20Z" fill="#9a6bc9"/>
<text x="460.10" y="377.80" font-family="'Liberation Serif', serif" font-size="10.8" fill="#111">CA<tspan dy="2.6" font-size="7.1">6</tspan></text>
<path d="M432.70 389.70h23.9" stroke="#c9960c" stroke-width="1.05"/>
<path d="M442.64 389.70L446.35 387.64L446.35 391.76Z" fill="#c9960c"/>
<text x="460.10" y="393.30" font-family="'Liberation Serif', serif" font-size="10.8" fill="#111">CA<tspan dy="2.6" font-size="7.1">2</tspan></text>
</svg>
</body></html>
